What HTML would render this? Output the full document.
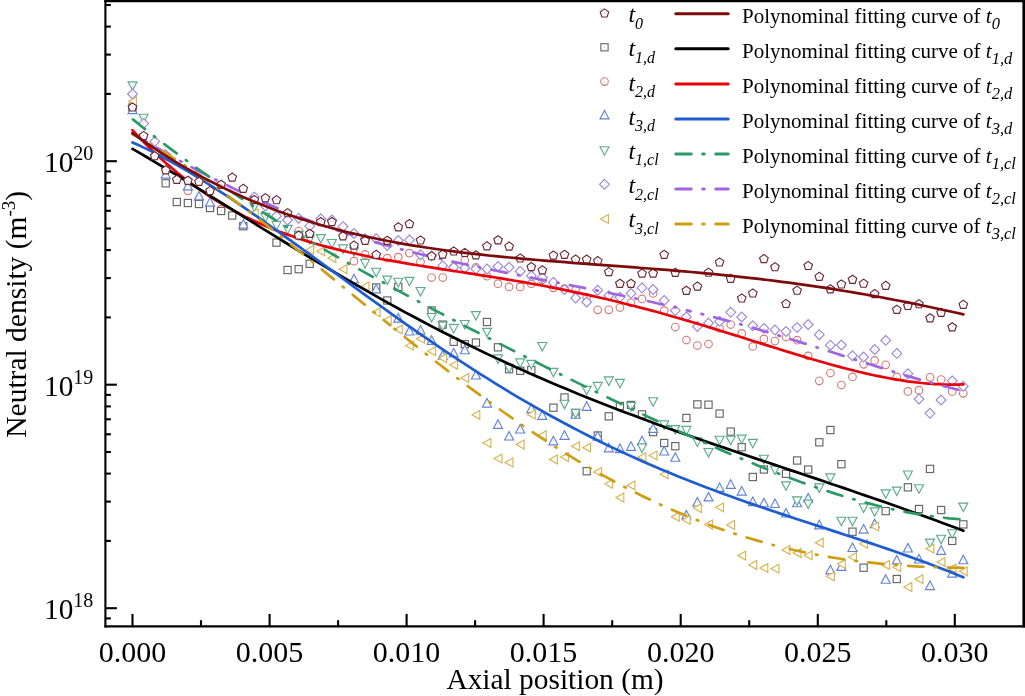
<!DOCTYPE html><html><head><meta charset="utf-8"><style>html,body{margin:0;padding:0;background:#fff;overflow:hidden}svg{display:block}text{font-family:"Liberation Serif","Times New Roman",serif;fill:#000}</style></head><body>
<svg width="1025" height="696" viewBox="0 0 1025 696">
<rect width="1025" height="696" fill="#fff"/>
<defs><clipPath id="pa"><rect x="106" y="2" width="916" height="623"/></clipPath></defs>
<g clip-path="url(#pa)" fill="#fff" stroke-width="1.15">
<g stroke="#d47a76">
<circle cx="132.5" cy="107.0" r="3.8"/><circle cx="132.5" cy="107.0" r="0.6" fill="#d47a76" fill-opacity="0.4" stroke="none"/>
<circle cx="187.9" cy="190.8" r="3.8"/><circle cx="187.9" cy="190.8" r="0.6" fill="#d47a76" fill-opacity="0.4" stroke="none"/>
<circle cx="199.0" cy="199.3" r="3.8"/><circle cx="199.0" cy="199.3" r="0.6" fill="#d47a76" fill-opacity="0.4" stroke="none"/>
<circle cx="210.0" cy="206.5" r="3.8"/><circle cx="210.0" cy="206.5" r="0.6" fill="#d47a76" fill-opacity="0.4" stroke="none"/>
<circle cx="221.1" cy="209.2" r="3.8"/><circle cx="221.1" cy="209.2" r="0.6" fill="#d47a76" fill-opacity="0.4" stroke="none"/>
<circle cx="298.7" cy="231.0" r="3.8"/><circle cx="298.7" cy="231.0" r="0.6" fill="#d47a76" fill-opacity="0.4" stroke="none"/>
<circle cx="354.0" cy="261.2" r="3.8"/><circle cx="354.0" cy="261.2" r="0.6" fill="#d47a76" fill-opacity="0.4" stroke="none"/>
<circle cx="365.1" cy="254.4" r="3.8"/><circle cx="365.1" cy="254.4" r="0.6" fill="#d47a76" fill-opacity="0.4" stroke="none"/>
<circle cx="387.3" cy="258.2" r="3.8"/><circle cx="387.3" cy="258.2" r="0.6" fill="#d47a76" fill-opacity="0.4" stroke="none"/>
<circle cx="398.3" cy="257.1" r="3.8"/><circle cx="398.3" cy="257.1" r="0.6" fill="#d47a76" fill-opacity="0.4" stroke="none"/>
<circle cx="409.4" cy="253.2" r="3.8"/><circle cx="409.4" cy="253.2" r="0.6" fill="#d47a76" fill-opacity="0.4" stroke="none"/>
<circle cx="420.5" cy="261.8" r="3.8"/><circle cx="420.5" cy="261.8" r="0.6" fill="#d47a76" fill-opacity="0.4" stroke="none"/>
<circle cx="431.6" cy="277.5" r="3.8"/><circle cx="431.6" cy="277.5" r="0.6" fill="#d47a76" fill-opacity="0.4" stroke="none"/>
<circle cx="442.7" cy="277.5" r="3.8"/><circle cx="442.7" cy="277.5" r="0.6" fill="#d47a76" fill-opacity="0.4" stroke="none"/>
<circle cx="453.7" cy="267.3" r="3.8"/><circle cx="453.7" cy="267.3" r="0.6" fill="#d47a76" fill-opacity="0.4" stroke="none"/>
<circle cx="464.8" cy="260.3" r="3.8"/><circle cx="464.8" cy="260.3" r="0.6" fill="#d47a76" fill-opacity="0.4" stroke="none"/>
<circle cx="475.9" cy="267.3" r="3.8"/><circle cx="475.9" cy="267.3" r="0.6" fill="#d47a76" fill-opacity="0.4" stroke="none"/>
<circle cx="487.0" cy="276.2" r="3.8"/><circle cx="487.0" cy="276.2" r="0.6" fill="#d47a76" fill-opacity="0.4" stroke="none"/>
<circle cx="498.0" cy="283.7" r="3.8"/><circle cx="498.0" cy="283.7" r="0.6" fill="#d47a76" fill-opacity="0.4" stroke="none"/>
<circle cx="509.1" cy="286.9" r="3.8"/><circle cx="509.1" cy="286.9" r="0.6" fill="#d47a76" fill-opacity="0.4" stroke="none"/>
<circle cx="520.2" cy="286.9" r="3.8"/><circle cx="520.2" cy="286.9" r="0.6" fill="#d47a76" fill-opacity="0.4" stroke="none"/>
<circle cx="531.3" cy="283.7" r="3.8"/><circle cx="531.3" cy="283.7" r="0.6" fill="#d47a76" fill-opacity="0.4" stroke="none"/>
<circle cx="542.3" cy="279.8" r="3.8"/><circle cx="542.3" cy="279.8" r="0.6" fill="#d47a76" fill-opacity="0.4" stroke="none"/>
<circle cx="553.4" cy="287.8" r="3.8"/><circle cx="553.4" cy="287.8" r="0.6" fill="#d47a76" fill-opacity="0.4" stroke="none"/>
<circle cx="564.5" cy="288.7" r="3.8"/><circle cx="564.5" cy="288.7" r="0.6" fill="#d47a76" fill-opacity="0.4" stroke="none"/>
<circle cx="575.6" cy="290.2" r="3.8"/><circle cx="575.6" cy="290.2" r="0.6" fill="#d47a76" fill-opacity="0.4" stroke="none"/>
<circle cx="586.7" cy="297.3" r="3.8"/><circle cx="586.7" cy="297.3" r="0.6" fill="#d47a76" fill-opacity="0.4" stroke="none"/>
<circle cx="597.7" cy="309.8" r="3.8"/><circle cx="597.7" cy="309.8" r="0.6" fill="#d47a76" fill-opacity="0.4" stroke="none"/>
<circle cx="608.8" cy="309.8" r="3.8"/><circle cx="608.8" cy="309.8" r="0.6" fill="#d47a76" fill-opacity="0.4" stroke="none"/>
<circle cx="619.9" cy="307.5" r="3.8"/><circle cx="619.9" cy="307.5" r="0.6" fill="#d47a76" fill-opacity="0.4" stroke="none"/>
<circle cx="631.0" cy="302.8" r="3.8"/><circle cx="631.0" cy="302.8" r="0.6" fill="#d47a76" fill-opacity="0.4" stroke="none"/>
<circle cx="642.0" cy="298.9" r="3.8"/><circle cx="642.0" cy="298.9" r="0.6" fill="#d47a76" fill-opacity="0.4" stroke="none"/>
<circle cx="653.1" cy="293.4" r="3.8"/><circle cx="653.1" cy="293.4" r="0.6" fill="#d47a76" fill-opacity="0.4" stroke="none"/>
<circle cx="664.2" cy="310.6" r="3.8"/><circle cx="664.2" cy="310.6" r="0.6" fill="#d47a76" fill-opacity="0.4" stroke="none"/>
<circle cx="675.3" cy="327.0" r="3.8"/><circle cx="675.3" cy="327.0" r="0.6" fill="#d47a76" fill-opacity="0.4" stroke="none"/>
<circle cx="686.4" cy="340.0" r="3.8"/><circle cx="686.4" cy="340.0" r="0.6" fill="#d47a76" fill-opacity="0.4" stroke="none"/>
<circle cx="697.4" cy="345.5" r="3.8"/><circle cx="697.4" cy="345.5" r="0.6" fill="#d47a76" fill-opacity="0.4" stroke="none"/>
<circle cx="708.5" cy="344.0" r="3.8"/><circle cx="708.5" cy="344.0" r="0.6" fill="#d47a76" fill-opacity="0.4" stroke="none"/>
<circle cx="719.6" cy="328.4" r="3.8"/><circle cx="719.6" cy="328.4" r="0.6" fill="#d47a76" fill-opacity="0.4" stroke="none"/>
<circle cx="730.7" cy="324.5" r="3.8"/><circle cx="730.7" cy="324.5" r="0.6" fill="#d47a76" fill-opacity="0.4" stroke="none"/>
<circle cx="741.7" cy="333.4" r="3.8"/><circle cx="741.7" cy="333.4" r="0.6" fill="#d47a76" fill-opacity="0.4" stroke="none"/>
<circle cx="752.8" cy="346.4" r="3.8"/><circle cx="752.8" cy="346.4" r="0.6" fill="#d47a76" fill-opacity="0.4" stroke="none"/>
<circle cx="763.9" cy="338.9" r="3.8"/><circle cx="763.9" cy="338.9" r="0.6" fill="#d47a76" fill-opacity="0.4" stroke="none"/>
<circle cx="775.0" cy="341.0" r="3.8"/><circle cx="775.0" cy="341.0" r="0.6" fill="#d47a76" fill-opacity="0.4" stroke="none"/>
<circle cx="786.0" cy="337.0" r="3.8"/><circle cx="786.0" cy="337.0" r="0.6" fill="#d47a76" fill-opacity="0.4" stroke="none"/>
<circle cx="797.1" cy="340.2" r="3.8"/><circle cx="797.1" cy="340.2" r="0.6" fill="#d47a76" fill-opacity="0.4" stroke="none"/>
<circle cx="808.2" cy="355.9" r="3.8"/><circle cx="808.2" cy="355.9" r="0.6" fill="#d47a76" fill-opacity="0.4" stroke="none"/>
<circle cx="819.3" cy="380.8" r="3.8"/><circle cx="819.3" cy="380.8" r="0.6" fill="#d47a76" fill-opacity="0.4" stroke="none"/>
<circle cx="830.4" cy="373.0" r="3.8"/><circle cx="830.4" cy="373.0" r="0.6" fill="#d47a76" fill-opacity="0.4" stroke="none"/>
<circle cx="841.4" cy="385.0" r="3.8"/><circle cx="841.4" cy="385.0" r="0.6" fill="#d47a76" fill-opacity="0.4" stroke="none"/>
<circle cx="852.5" cy="376.9" r="3.8"/><circle cx="852.5" cy="376.9" r="0.6" fill="#d47a76" fill-opacity="0.4" stroke="none"/>
<circle cx="863.6" cy="364.3" r="3.8"/><circle cx="863.6" cy="364.3" r="0.6" fill="#d47a76" fill-opacity="0.4" stroke="none"/>
<circle cx="874.7" cy="360.4" r="3.8"/><circle cx="874.7" cy="360.4" r="0.6" fill="#d47a76" fill-opacity="0.4" stroke="none"/>
<circle cx="885.7" cy="364.8" r="3.8"/><circle cx="885.7" cy="364.8" r="0.6" fill="#d47a76" fill-opacity="0.4" stroke="none"/>
<circle cx="896.8" cy="376.9" r="3.8"/><circle cx="896.8" cy="376.9" r="0.6" fill="#d47a76" fill-opacity="0.4" stroke="none"/>
<circle cx="907.9" cy="391.4" r="3.8"/><circle cx="907.9" cy="391.4" r="0.6" fill="#d47a76" fill-opacity="0.4" stroke="none"/>
<circle cx="919.0" cy="390.2" r="3.8"/><circle cx="919.0" cy="390.2" r="0.6" fill="#d47a76" fill-opacity="0.4" stroke="none"/>
<circle cx="930.0" cy="377.3" r="3.8"/><circle cx="930.0" cy="377.3" r="0.6" fill="#d47a76" fill-opacity="0.4" stroke="none"/>
<circle cx="941.1" cy="379.5" r="3.8"/><circle cx="941.1" cy="379.5" r="0.6" fill="#d47a76" fill-opacity="0.4" stroke="none"/>
<circle cx="952.2" cy="391.4" r="3.8"/><circle cx="952.2" cy="391.4" r="0.6" fill="#d47a76" fill-opacity="0.4" stroke="none"/>
<circle cx="963.3" cy="393.3" r="3.8"/><circle cx="963.3" cy="393.3" r="0.6" fill="#d47a76" fill-opacity="0.4" stroke="none"/>
</g>
<g stroke="#646464">
<rect x="128.9" y="103.9" width="7.2" height="7.2"/><circle cx="132.5" cy="107.5" r="0.6" fill="#646464" fill-opacity="0.4" stroke="none"/>
<rect x="162.1" y="179.7" width="7.2" height="7.2"/><circle cx="165.7" cy="183.3" r="0.6" fill="#646464" fill-opacity="0.4" stroke="none"/>
<rect x="173.2" y="198.4" width="7.2" height="7.2"/><circle cx="176.8" cy="202.0" r="0.6" fill="#646464" fill-opacity="0.4" stroke="none"/>
<rect x="184.3" y="199.4" width="7.2" height="7.2"/><circle cx="187.9" cy="203.0" r="0.6" fill="#646464" fill-opacity="0.4" stroke="none"/>
<rect x="195.4" y="200.4" width="7.2" height="7.2"/><circle cx="199.0" cy="204.0" r="0.6" fill="#646464" fill-opacity="0.4" stroke="none"/>
<rect x="206.4" y="204.4" width="7.2" height="7.2"/><circle cx="210.0" cy="208.0" r="0.6" fill="#646464" fill-opacity="0.4" stroke="none"/>
<rect x="217.5" y="207.4" width="7.2" height="7.2"/><circle cx="221.1" cy="211.0" r="0.6" fill="#646464" fill-opacity="0.4" stroke="none"/>
<rect x="228.6" y="211.9" width="7.2" height="7.2"/><circle cx="232.2" cy="215.5" r="0.6" fill="#646464" fill-opacity="0.4" stroke="none"/>
<rect x="239.7" y="222.6" width="7.2" height="7.2"/><circle cx="243.3" cy="226.2" r="0.6" fill="#646464" fill-opacity="0.4" stroke="none"/>
<rect x="272.9" y="239.0" width="7.2" height="7.2"/><circle cx="276.5" cy="242.6" r="0.6" fill="#646464" fill-opacity="0.4" stroke="none"/>
<rect x="284.0" y="266.4" width="7.2" height="7.2"/><circle cx="287.6" cy="270.0" r="0.6" fill="#646464" fill-opacity="0.4" stroke="none"/>
<rect x="295.1" y="265.6" width="7.2" height="7.2"/><circle cx="298.7" cy="269.2" r="0.6" fill="#646464" fill-opacity="0.4" stroke="none"/>
<rect x="306.1" y="260.2" width="7.2" height="7.2"/><circle cx="309.7" cy="263.8" r="0.6" fill="#646464" fill-opacity="0.4" stroke="none"/>
<rect x="372.6" y="283.9" width="7.2" height="7.2"/><circle cx="376.2" cy="287.5" r="0.6" fill="#646464" fill-opacity="0.4" stroke="none"/>
<rect x="383.7" y="296.9" width="7.2" height="7.2"/><circle cx="387.3" cy="300.5" r="0.6" fill="#646464" fill-opacity="0.4" stroke="none"/>
<rect x="394.7" y="283.4" width="7.2" height="7.2"/><circle cx="398.3" cy="287.0" r="0.6" fill="#646464" fill-opacity="0.4" stroke="none"/>
<rect x="428.0" y="306.9" width="7.2" height="7.2"/><circle cx="431.6" cy="310.5" r="0.6" fill="#646464" fill-opacity="0.4" stroke="none"/>
<rect x="439.1" y="321.0" width="7.2" height="7.2"/><circle cx="442.7" cy="324.6" r="0.6" fill="#646464" fill-opacity="0.4" stroke="none"/>
<rect x="450.1" y="338.2" width="7.2" height="7.2"/><circle cx="453.7" cy="341.8" r="0.6" fill="#646464" fill-opacity="0.4" stroke="none"/>
<rect x="461.2" y="340.6" width="7.2" height="7.2"/><circle cx="464.8" cy="344.2" r="0.6" fill="#646464" fill-opacity="0.4" stroke="none"/>
<rect x="472.3" y="339.0" width="7.2" height="7.2"/><circle cx="475.9" cy="342.6" r="0.6" fill="#646464" fill-opacity="0.4" stroke="none"/>
<rect x="483.4" y="318.4" width="7.2" height="7.2"/><circle cx="487.0" cy="322.0" r="0.6" fill="#646464" fill-opacity="0.4" stroke="none"/>
<rect x="494.4" y="343.7" width="7.2" height="7.2"/><circle cx="498.0" cy="347.3" r="0.6" fill="#646464" fill-opacity="0.4" stroke="none"/>
<rect x="505.5" y="365.6" width="7.2" height="7.2"/><circle cx="509.1" cy="369.2" r="0.6" fill="#646464" fill-opacity="0.4" stroke="none"/>
<rect x="516.6" y="367.2" width="7.2" height="7.2"/><circle cx="520.2" cy="370.8" r="0.6" fill="#646464" fill-opacity="0.4" stroke="none"/>
<rect x="527.7" y="366.4" width="7.2" height="7.2"/><circle cx="531.3" cy="370.0" r="0.6" fill="#646464" fill-opacity="0.4" stroke="none"/>
<rect x="549.8" y="404.1" width="7.2" height="7.2"/><circle cx="553.4" cy="407.7" r="0.6" fill="#646464" fill-opacity="0.4" stroke="none"/>
<rect x="560.9" y="393.9" width="7.2" height="7.2"/><circle cx="564.5" cy="397.5" r="0.6" fill="#646464" fill-opacity="0.4" stroke="none"/>
<rect x="572.0" y="409.4" width="7.2" height="7.2"/><circle cx="575.6" cy="413.0" r="0.6" fill="#646464" fill-opacity="0.4" stroke="none"/>
<rect x="583.1" y="467.6" width="7.2" height="7.2"/><circle cx="586.7" cy="471.2" r="0.6" fill="#646464" fill-opacity="0.4" stroke="none"/>
<rect x="594.1" y="431.9" width="7.2" height="7.2"/><circle cx="597.7" cy="435.5" r="0.6" fill="#646464" fill-opacity="0.4" stroke="none"/>
<rect x="605.2" y="412.7" width="7.2" height="7.2"/><circle cx="608.8" cy="416.3" r="0.6" fill="#646464" fill-opacity="0.4" stroke="none"/>
<rect x="616.3" y="402.4" width="7.2" height="7.2"/><circle cx="619.9" cy="406.0" r="0.6" fill="#646464" fill-opacity="0.4" stroke="none"/>
<rect x="627.4" y="401.4" width="7.2" height="7.2"/><circle cx="631.0" cy="405.0" r="0.6" fill="#646464" fill-opacity="0.4" stroke="none"/>
<rect x="638.4" y="410.8" width="7.2" height="7.2"/><circle cx="642.0" cy="414.4" r="0.6" fill="#646464" fill-opacity="0.4" stroke="none"/>
<rect x="649.5" y="428.5" width="7.2" height="7.2"/><circle cx="653.1" cy="432.1" r="0.6" fill="#646464" fill-opacity="0.4" stroke="none"/>
<rect x="660.6" y="439.4" width="7.2" height="7.2"/><circle cx="664.2" cy="443.0" r="0.6" fill="#646464" fill-opacity="0.4" stroke="none"/>
<rect x="671.7" y="442.6" width="7.2" height="7.2"/><circle cx="675.3" cy="446.2" r="0.6" fill="#646464" fill-opacity="0.4" stroke="none"/>
<rect x="682.8" y="414.4" width="7.2" height="7.2"/><circle cx="686.4" cy="418.0" r="0.6" fill="#646464" fill-opacity="0.4" stroke="none"/>
<rect x="693.8" y="400.8" width="7.2" height="7.2"/><circle cx="697.4" cy="404.4" r="0.6" fill="#646464" fill-opacity="0.4" stroke="none"/>
<rect x="704.9" y="401.1" width="7.2" height="7.2"/><circle cx="708.5" cy="404.7" r="0.6" fill="#646464" fill-opacity="0.4" stroke="none"/>
<rect x="716.0" y="410.0" width="7.2" height="7.2"/><circle cx="719.6" cy="413.6" r="0.6" fill="#646464" fill-opacity="0.4" stroke="none"/>
<rect x="727.1" y="428.0" width="7.2" height="7.2"/><circle cx="730.7" cy="431.6" r="0.6" fill="#646464" fill-opacity="0.4" stroke="none"/>
<rect x="738.1" y="443.6" width="7.2" height="7.2"/><circle cx="741.7" cy="447.2" r="0.6" fill="#646464" fill-opacity="0.4" stroke="none"/>
<rect x="749.2" y="473.4" width="7.2" height="7.2"/><circle cx="752.8" cy="477.0" r="0.6" fill="#646464" fill-opacity="0.4" stroke="none"/>
<rect x="760.3" y="465.9" width="7.2" height="7.2"/><circle cx="763.9" cy="469.5" r="0.6" fill="#646464" fill-opacity="0.4" stroke="none"/>
<rect x="782.4" y="470.2" width="7.2" height="7.2"/><circle cx="786.0" cy="473.8" r="0.6" fill="#646464" fill-opacity="0.4" stroke="none"/>
<rect x="793.5" y="456.9" width="7.2" height="7.2"/><circle cx="797.1" cy="460.5" r="0.6" fill="#646464" fill-opacity="0.4" stroke="none"/>
<rect x="804.6" y="466.0" width="7.2" height="7.2"/><circle cx="808.2" cy="469.6" r="0.6" fill="#646464" fill-opacity="0.4" stroke="none"/>
<rect x="815.7" y="438.7" width="7.2" height="7.2"/><circle cx="819.3" cy="442.3" r="0.6" fill="#646464" fill-opacity="0.4" stroke="none"/>
<rect x="826.8" y="426.4" width="7.2" height="7.2"/><circle cx="830.4" cy="430.0" r="0.6" fill="#646464" fill-opacity="0.4" stroke="none"/>
<rect x="837.8" y="460.6" width="7.2" height="7.2"/><circle cx="841.4" cy="464.2" r="0.6" fill="#646464" fill-opacity="0.4" stroke="none"/>
<rect x="848.9" y="528.1" width="7.2" height="7.2"/><circle cx="852.5" cy="531.7" r="0.6" fill="#646464" fill-opacity="0.4" stroke="none"/>
<rect x="860.0" y="564.1" width="7.2" height="7.2"/><circle cx="863.6" cy="567.7" r="0.6" fill="#646464" fill-opacity="0.4" stroke="none"/>
<rect x="882.1" y="507.5" width="7.2" height="7.2"/><circle cx="885.7" cy="511.1" r="0.6" fill="#646464" fill-opacity="0.4" stroke="none"/>
<rect x="893.2" y="575.4" width="7.2" height="7.2"/><circle cx="896.8" cy="579.0" r="0.6" fill="#646464" fill-opacity="0.4" stroke="none"/>
<rect x="904.3" y="483.7" width="7.2" height="7.2"/><circle cx="907.9" cy="487.3" r="0.6" fill="#646464" fill-opacity="0.4" stroke="none"/>
<rect x="915.4" y="505.4" width="7.2" height="7.2"/><circle cx="919.0" cy="509.0" r="0.6" fill="#646464" fill-opacity="0.4" stroke="none"/>
<rect x="926.4" y="465.3" width="7.2" height="7.2"/><circle cx="930.0" cy="468.9" r="0.6" fill="#646464" fill-opacity="0.4" stroke="none"/>
<rect x="937.5" y="506.4" width="7.2" height="7.2"/><circle cx="941.1" cy="510.0" r="0.6" fill="#646464" fill-opacity="0.4" stroke="none"/>
<rect x="948.6" y="537.3" width="7.2" height="7.2"/><circle cx="952.2" cy="540.9" r="0.6" fill="#646464" fill-opacity="0.4" stroke="none"/>
<rect x="959.7" y="520.8" width="7.2" height="7.2"/><circle cx="963.3" cy="524.4" r="0.6" fill="#646464" fill-opacity="0.4" stroke="none"/>
</g>
<g stroke="#6282d4">
<polygon points="132.5,105.1 137.0,113.6 128.0,113.6"/><circle cx="132.5" cy="109.5" r="0.6" fill="#6282d4" fill-opacity="0.4" stroke="none"/>
<polygon points="165.7,169.6 170.2,178.1 161.2,178.1"/><circle cx="165.7" cy="174.0" r="0.6" fill="#6282d4" fill-opacity="0.4" stroke="none"/>
<polygon points="187.9,181.4 192.4,189.9 183.4,189.9"/><circle cx="187.9" cy="185.8" r="0.6" fill="#6282d4" fill-opacity="0.4" stroke="none"/>
<polygon points="199.0,191.4 203.5,199.9 194.5,199.9"/><circle cx="199.0" cy="195.8" r="0.6" fill="#6282d4" fill-opacity="0.4" stroke="none"/>
<polygon points="210.0,197.6 214.5,206.1 205.5,206.1"/><circle cx="210.0" cy="202.0" r="0.6" fill="#6282d4" fill-opacity="0.4" stroke="none"/>
<polygon points="243.3,219.6 247.8,228.1 238.8,228.1"/><circle cx="243.3" cy="224.0" r="0.6" fill="#6282d4" fill-opacity="0.4" stroke="none"/>
<polygon points="354.0,274.2 358.5,282.7 349.5,282.7"/><circle cx="354.0" cy="278.6" r="0.6" fill="#6282d4" fill-opacity="0.4" stroke="none"/>
<polygon points="376.2,284.4 380.7,292.9 371.7,292.9"/><circle cx="376.2" cy="288.8" r="0.6" fill="#6282d4" fill-opacity="0.4" stroke="none"/>
<polygon points="398.3,313.6 402.8,322.1 393.8,322.1"/><circle cx="398.3" cy="318.0" r="0.6" fill="#6282d4" fill-opacity="0.4" stroke="none"/>
<polygon points="409.4,326.5 413.9,335.0 404.9,335.0"/><circle cx="409.4" cy="330.9" r="0.6" fill="#6282d4" fill-opacity="0.4" stroke="none"/>
<polygon points="420.5,325.6 425.0,334.1 416.0,334.1"/><circle cx="420.5" cy="330.0" r="0.6" fill="#6282d4" fill-opacity="0.4" stroke="none"/>
<polygon points="431.6,335.8 436.1,344.3 427.1,344.3"/><circle cx="431.6" cy="340.2" r="0.6" fill="#6282d4" fill-opacity="0.4" stroke="none"/>
<polygon points="442.7,350.7 447.2,359.2 438.2,359.2"/><circle cx="442.7" cy="355.1" r="0.6" fill="#6282d4" fill-opacity="0.4" stroke="none"/>
<polygon points="453.7,348.4 458.2,356.9 449.2,356.9"/><circle cx="453.7" cy="352.8" r="0.6" fill="#6282d4" fill-opacity="0.4" stroke="none"/>
<polygon points="464.8,345.2 469.3,353.7 460.3,353.7"/><circle cx="464.8" cy="349.6" r="0.6" fill="#6282d4" fill-opacity="0.4" stroke="none"/>
<polygon points="475.9,370.5 480.4,379.0 471.4,379.0"/><circle cx="475.9" cy="374.9" r="0.6" fill="#6282d4" fill-opacity="0.4" stroke="none"/>
<polygon points="487.0,398.6 491.5,407.1 482.5,407.1"/><circle cx="487.0" cy="403.0" r="0.6" fill="#6282d4" fill-opacity="0.4" stroke="none"/>
<polygon points="498.0,419.8 502.5,428.3 493.5,428.3"/><circle cx="498.0" cy="424.2" r="0.6" fill="#6282d4" fill-opacity="0.4" stroke="none"/>
<polygon points="509.1,431.5 513.6,440.0 504.6,440.0"/><circle cx="509.1" cy="435.9" r="0.6" fill="#6282d4" fill-opacity="0.4" stroke="none"/>
<polygon points="520.2,424.5 524.7,433.0 515.7,433.0"/><circle cx="520.2" cy="428.9" r="0.6" fill="#6282d4" fill-opacity="0.4" stroke="none"/>
<polygon points="531.3,404.1 535.8,412.6 526.8,412.6"/><circle cx="531.3" cy="408.5" r="0.6" fill="#6282d4" fill-opacity="0.4" stroke="none"/>
<polygon points="542.3,410.8 546.8,419.3 537.8,419.3"/><circle cx="542.3" cy="415.2" r="0.6" fill="#6282d4" fill-opacity="0.4" stroke="none"/>
<polygon points="553.4,436.3 557.9,444.8 548.9,444.8"/><circle cx="553.4" cy="440.7" r="0.6" fill="#6282d4" fill-opacity="0.4" stroke="none"/>
<polygon points="564.5,430.8 569.0,439.3 560.0,439.3"/><circle cx="564.5" cy="435.2" r="0.6" fill="#6282d4" fill-opacity="0.4" stroke="none"/>
<polygon points="575.6,409.7 580.1,418.2 571.1,418.2"/><circle cx="575.6" cy="414.1" r="0.6" fill="#6282d4" fill-opacity="0.4" stroke="none"/>
<polygon points="586.7,401.8 591.2,410.3 582.2,410.3"/><circle cx="586.7" cy="406.2" r="0.6" fill="#6282d4" fill-opacity="0.4" stroke="none"/>
<polygon points="597.7,431.6 602.2,440.1 593.2,440.1"/><circle cx="597.7" cy="436.0" r="0.6" fill="#6282d4" fill-opacity="0.4" stroke="none"/>
<polygon points="608.8,443.3 613.3,451.8 604.3,451.8"/><circle cx="608.8" cy="447.7" r="0.6" fill="#6282d4" fill-opacity="0.4" stroke="none"/>
<polygon points="619.9,444.1 624.4,452.6 615.4,452.6"/><circle cx="619.9" cy="448.5" r="0.6" fill="#6282d4" fill-opacity="0.4" stroke="none"/>
<polygon points="631.0,441.8 635.5,450.3 626.5,450.3"/><circle cx="631.0" cy="446.2" r="0.6" fill="#6282d4" fill-opacity="0.4" stroke="none"/>
<polygon points="642.0,436.3 646.5,444.8 637.5,444.8"/><circle cx="642.0" cy="440.7" r="0.6" fill="#6282d4" fill-opacity="0.4" stroke="none"/>
<polygon points="653.1,423.8 657.6,432.3 648.6,432.3"/><circle cx="653.1" cy="428.2" r="0.6" fill="#6282d4" fill-opacity="0.4" stroke="none"/>
<polygon points="664.2,446.5 668.7,455.0 659.7,455.0"/><circle cx="664.2" cy="450.9" r="0.6" fill="#6282d4" fill-opacity="0.4" stroke="none"/>
<polygon points="675.3,452.7 679.8,461.2 670.8,461.2"/><circle cx="675.3" cy="457.1" r="0.6" fill="#6282d4" fill-opacity="0.4" stroke="none"/>
<polygon points="686.4,510.4 690.9,518.9 681.9,518.9"/><circle cx="686.4" cy="514.8" r="0.6" fill="#6282d4" fill-opacity="0.4" stroke="none"/>
<polygon points="697.4,497.5 701.9,506.0 692.9,506.0"/><circle cx="697.4" cy="501.9" r="0.6" fill="#6282d4" fill-opacity="0.4" stroke="none"/>
<polygon points="708.5,492.4 713.0,500.9 704.0,500.9"/><circle cx="708.5" cy="496.8" r="0.6" fill="#6282d4" fill-opacity="0.4" stroke="none"/>
<polygon points="719.6,482.9 724.1,491.4 715.1,491.4"/><circle cx="719.6" cy="487.3" r="0.6" fill="#6282d4" fill-opacity="0.4" stroke="none"/>
<polygon points="730.7,479.8 735.2,488.3 726.2,488.3"/><circle cx="730.7" cy="484.2" r="0.6" fill="#6282d4" fill-opacity="0.4" stroke="none"/>
<polygon points="741.7,486.6 746.2,495.1 737.2,495.1"/><circle cx="741.7" cy="491.0" r="0.6" fill="#6282d4" fill-opacity="0.4" stroke="none"/>
<polygon points="752.8,497.1 757.3,505.6 748.3,505.6"/><circle cx="752.8" cy="501.5" r="0.6" fill="#6282d4" fill-opacity="0.4" stroke="none"/>
<polygon points="763.9,498.2 768.4,506.7 759.4,506.7"/><circle cx="763.9" cy="502.6" r="0.6" fill="#6282d4" fill-opacity="0.4" stroke="none"/>
<polygon points="775.0,499.0 779.5,507.5 770.5,507.5"/><circle cx="775.0" cy="503.4" r="0.6" fill="#6282d4" fill-opacity="0.4" stroke="none"/>
<polygon points="786.0,508.5 790.5,517.0 781.5,517.0"/><circle cx="786.0" cy="512.9" r="0.6" fill="#6282d4" fill-opacity="0.4" stroke="none"/>
<polygon points="797.1,498.2 801.6,506.7 792.6,506.7"/><circle cx="797.1" cy="502.6" r="0.6" fill="#6282d4" fill-opacity="0.4" stroke="none"/>
<polygon points="808.2,493.5 812.7,502.0 803.7,502.0"/><circle cx="808.2" cy="497.9" r="0.6" fill="#6282d4" fill-opacity="0.4" stroke="none"/>
<polygon points="819.3,520.3 823.8,528.8 814.8,528.8"/><circle cx="819.3" cy="524.7" r="0.6" fill="#6282d4" fill-opacity="0.4" stroke="none"/>
<polygon points="830.4,565.3 834.9,573.8 825.9,573.8"/><circle cx="830.4" cy="569.7" r="0.6" fill="#6282d4" fill-opacity="0.4" stroke="none"/>
<polygon points="841.4,561.9 845.9,570.4 836.9,570.4"/><circle cx="841.4" cy="566.3" r="0.6" fill="#6282d4" fill-opacity="0.4" stroke="none"/>
<polygon points="852.5,543.0 857.0,551.5 848.0,551.5"/><circle cx="852.5" cy="547.4" r="0.6" fill="#6282d4" fill-opacity="0.4" stroke="none"/>
<polygon points="863.6,524.6 868.1,533.1 859.1,533.1"/><circle cx="863.6" cy="529.0" r="0.6" fill="#6282d4" fill-opacity="0.4" stroke="none"/>
<polygon points="874.7,519.2 879.2,527.7 870.2,527.7"/><circle cx="874.7" cy="523.6" r="0.6" fill="#6282d4" fill-opacity="0.4" stroke="none"/>
<polygon points="885.7,574.7 890.2,583.2 881.2,583.2"/><circle cx="885.7" cy="579.1" r="0.6" fill="#6282d4" fill-opacity="0.4" stroke="none"/>
<polygon points="896.8,555.4 901.3,563.9 892.3,563.9"/><circle cx="896.8" cy="559.8" r="0.6" fill="#6282d4" fill-opacity="0.4" stroke="none"/>
<polygon points="907.9,543.5 912.4,552.0 903.4,552.0"/><circle cx="907.9" cy="547.9" r="0.6" fill="#6282d4" fill-opacity="0.4" stroke="none"/>
<polygon points="919.0,554.5 923.5,563.0 914.5,563.0"/><circle cx="919.0" cy="558.9" r="0.6" fill="#6282d4" fill-opacity="0.4" stroke="none"/>
<polygon points="930.0,581.1 934.5,589.6 925.5,589.6"/><circle cx="930.0" cy="585.5" r="0.6" fill="#6282d4" fill-opacity="0.4" stroke="none"/>
<polygon points="941.1,545.8 945.6,554.3 936.6,554.3"/><circle cx="941.1" cy="550.2" r="0.6" fill="#6282d4" fill-opacity="0.4" stroke="none"/>
<polygon points="952.2,568.6 956.7,577.1 947.7,577.1"/><circle cx="952.2" cy="573.0" r="0.6" fill="#6282d4" fill-opacity="0.4" stroke="none"/>
<polygon points="963.3,555.2 967.8,563.7 958.8,563.7"/><circle cx="963.3" cy="559.6" r="0.6" fill="#6282d4" fill-opacity="0.4" stroke="none"/>
</g>
<g stroke="#5cab8c">
<polygon points="132.5,90.3 137.0,81.8 128.0,81.8"/><circle cx="132.5" cy="85.9" r="0.6" fill="#5cab8c" fill-opacity="0.4" stroke="none"/>
<polygon points="143.6,122.7 148.1,114.2 139.1,114.2"/><circle cx="143.6" cy="118.3" r="0.6" fill="#5cab8c" fill-opacity="0.4" stroke="none"/>
<polygon points="254.3,211.4 258.8,202.9 249.8,202.9"/><circle cx="254.3" cy="207.0" r="0.6" fill="#5cab8c" fill-opacity="0.4" stroke="none"/>
<polygon points="265.4,221.9 269.9,213.4 260.9,213.4"/><circle cx="265.4" cy="217.5" r="0.6" fill="#5cab8c" fill-opacity="0.4" stroke="none"/>
<polygon points="276.5,229.9 281.0,221.4 272.0,221.4"/><circle cx="276.5" cy="225.5" r="0.6" fill="#5cab8c" fill-opacity="0.4" stroke="none"/>
<polygon points="287.6,233.9 292.1,225.4 283.1,225.4"/><circle cx="287.6" cy="229.5" r="0.6" fill="#5cab8c" fill-opacity="0.4" stroke="none"/>
<polygon points="298.7,239.9 303.2,231.4 294.2,231.4"/><circle cx="298.7" cy="235.5" r="0.6" fill="#5cab8c" fill-opacity="0.4" stroke="none"/>
<polygon points="309.7,243.9 314.2,235.4 305.2,235.4"/><circle cx="309.7" cy="239.5" r="0.6" fill="#5cab8c" fill-opacity="0.4" stroke="none"/>
<polygon points="320.8,243.1 325.3,234.6 316.3,234.6"/><circle cx="320.8" cy="238.7" r="0.6" fill="#5cab8c" fill-opacity="0.4" stroke="none"/>
<polygon points="331.9,248.0 336.4,239.5 327.4,239.5"/><circle cx="331.9" cy="243.6" r="0.6" fill="#5cab8c" fill-opacity="0.4" stroke="none"/>
<polygon points="343.0,253.4 347.5,244.9 338.5,244.9"/><circle cx="343.0" cy="249.0" r="0.6" fill="#5cab8c" fill-opacity="0.4" stroke="none"/>
<polygon points="354.0,255.9 358.5,247.4 349.5,247.4"/><circle cx="354.0" cy="251.5" r="0.6" fill="#5cab8c" fill-opacity="0.4" stroke="none"/>
<polygon points="365.1,267.9 369.6,259.4 360.6,259.4"/><circle cx="365.1" cy="263.5" r="0.6" fill="#5cab8c" fill-opacity="0.4" stroke="none"/>
<polygon points="376.2,276.7 380.7,268.2 371.7,268.2"/><circle cx="376.2" cy="272.3" r="0.6" fill="#5cab8c" fill-opacity="0.4" stroke="none"/>
<polygon points="387.3,284.6 391.8,276.1 382.8,276.1"/><circle cx="387.3" cy="280.2" r="0.6" fill="#5cab8c" fill-opacity="0.4" stroke="none"/>
<polygon points="398.3,286.7 402.8,278.2 393.8,278.2"/><circle cx="398.3" cy="282.3" r="0.6" fill="#5cab8c" fill-opacity="0.4" stroke="none"/>
<polygon points="409.4,285.8 413.9,277.3 404.9,277.3"/><circle cx="409.4" cy="281.4" r="0.6" fill="#5cab8c" fill-opacity="0.4" stroke="none"/>
<polygon points="420.5,296.0 425.0,287.5 416.0,287.5"/><circle cx="420.5" cy="291.6" r="0.6" fill="#5cab8c" fill-opacity="0.4" stroke="none"/>
<polygon points="431.6,322.0 436.1,313.5 427.1,313.5"/><circle cx="431.6" cy="317.6" r="0.6" fill="#5cab8c" fill-opacity="0.4" stroke="none"/>
<polygon points="442.7,330.6 447.2,322.1 438.2,322.1"/><circle cx="442.7" cy="326.2" r="0.6" fill="#5cab8c" fill-opacity="0.4" stroke="none"/>
<polygon points="453.7,332.9 458.2,324.4 449.2,324.4"/><circle cx="453.7" cy="328.5" r="0.6" fill="#5cab8c" fill-opacity="0.4" stroke="none"/>
<polygon points="464.8,329.0 469.3,320.5 460.3,320.5"/><circle cx="464.8" cy="324.6" r="0.6" fill="#5cab8c" fill-opacity="0.4" stroke="none"/>
<polygon points="475.9,320.1 480.4,311.6 471.4,311.6"/><circle cx="475.9" cy="315.7" r="0.6" fill="#5cab8c" fill-opacity="0.4" stroke="none"/>
<polygon points="487.0,336.8 491.5,328.3 482.5,328.3"/><circle cx="487.0" cy="332.4" r="0.6" fill="#5cab8c" fill-opacity="0.4" stroke="none"/>
<polygon points="498.0,363.4 502.5,354.9 493.5,354.9"/><circle cx="498.0" cy="359.0" r="0.6" fill="#5cab8c" fill-opacity="0.4" stroke="none"/>
<polygon points="509.1,372.8 513.6,364.3 504.6,364.3"/><circle cx="509.1" cy="368.4" r="0.6" fill="#5cab8c" fill-opacity="0.4" stroke="none"/>
<polygon points="520.2,367.4 524.7,358.9 515.7,358.9"/><circle cx="520.2" cy="363.0" r="0.6" fill="#5cab8c" fill-opacity="0.4" stroke="none"/>
<polygon points="531.3,368.9 535.8,360.4 526.8,360.4"/><circle cx="531.3" cy="364.5" r="0.6" fill="#5cab8c" fill-opacity="0.4" stroke="none"/>
<polygon points="542.3,351.0 546.8,342.5 537.8,342.5"/><circle cx="542.3" cy="346.6" r="0.6" fill="#5cab8c" fill-opacity="0.4" stroke="none"/>
<polygon points="553.4,376.8 557.9,368.3 548.9,368.3"/><circle cx="553.4" cy="372.4" r="0.6" fill="#5cab8c" fill-opacity="0.4" stroke="none"/>
<polygon points="564.5,408.7 569.0,400.2 560.0,400.2"/><circle cx="564.5" cy="404.3" r="0.6" fill="#5cab8c" fill-opacity="0.4" stroke="none"/>
<polygon points="575.6,417.9 580.1,409.4 571.1,409.4"/><circle cx="575.6" cy="413.5" r="0.6" fill="#5cab8c" fill-opacity="0.4" stroke="none"/>
<polygon points="586.7,394.8 591.2,386.3 582.2,386.3"/><circle cx="586.7" cy="390.4" r="0.6" fill="#5cab8c" fill-opacity="0.4" stroke="none"/>
<polygon points="597.7,390.9 602.2,382.4 593.2,382.4"/><circle cx="597.7" cy="386.5" r="0.6" fill="#5cab8c" fill-opacity="0.4" stroke="none"/>
<polygon points="608.8,385.4 613.3,376.9 604.3,376.9"/><circle cx="608.8" cy="381.0" r="0.6" fill="#5cab8c" fill-opacity="0.4" stroke="none"/>
<polygon points="619.9,387.8 624.4,379.3 615.4,379.3"/><circle cx="619.9" cy="383.4" r="0.6" fill="#5cab8c" fill-opacity="0.4" stroke="none"/>
<polygon points="631.0,411.0 635.5,402.5 626.5,402.5"/><circle cx="631.0" cy="406.6" r="0.6" fill="#5cab8c" fill-opacity="0.4" stroke="none"/>
<polygon points="642.0,452.4 646.5,443.9 637.5,443.9"/><circle cx="642.0" cy="448.0" r="0.6" fill="#5cab8c" fill-opacity="0.4" stroke="none"/>
<polygon points="653.1,406.2 657.6,397.7 648.6,397.7"/><circle cx="653.1" cy="401.8" r="0.6" fill="#5cab8c" fill-opacity="0.4" stroke="none"/>
<polygon points="664.2,429.4 668.7,420.9 659.7,420.9"/><circle cx="664.2" cy="425.0" r="0.6" fill="#5cab8c" fill-opacity="0.4" stroke="none"/>
<polygon points="675.3,434.1 679.8,425.6 670.8,425.6"/><circle cx="675.3" cy="429.7" r="0.6" fill="#5cab8c" fill-opacity="0.4" stroke="none"/>
<polygon points="686.4,434.9 690.9,426.4 681.9,426.4"/><circle cx="686.4" cy="430.5" r="0.6" fill="#5cab8c" fill-opacity="0.4" stroke="none"/>
<polygon points="697.4,446.4 701.9,437.9 692.9,437.9"/><circle cx="697.4" cy="442.0" r="0.6" fill="#5cab8c" fill-opacity="0.4" stroke="none"/>
<polygon points="708.5,457.0 713.0,448.5 704.0,448.5"/><circle cx="708.5" cy="452.6" r="0.6" fill="#5cab8c" fill-opacity="0.4" stroke="none"/>
<polygon points="719.6,444.7 724.1,436.2 715.1,436.2"/><circle cx="719.6" cy="440.3" r="0.6" fill="#5cab8c" fill-opacity="0.4" stroke="none"/>
<polygon points="730.7,444.7 735.2,436.2 726.2,436.2"/><circle cx="730.7" cy="440.3" r="0.6" fill="#5cab8c" fill-opacity="0.4" stroke="none"/>
<polygon points="741.7,443.6 746.2,435.1 737.2,435.1"/><circle cx="741.7" cy="439.2" r="0.6" fill="#5cab8c" fill-opacity="0.4" stroke="none"/>
<polygon points="752.8,447.8 757.3,439.3 748.3,439.3"/><circle cx="752.8" cy="443.4" r="0.6" fill="#5cab8c" fill-opacity="0.4" stroke="none"/>
<polygon points="763.9,463.7 768.4,455.2 759.4,455.2"/><circle cx="763.9" cy="459.3" r="0.6" fill="#5cab8c" fill-opacity="0.4" stroke="none"/>
<polygon points="775.0,474.6 779.5,466.1 770.5,466.1"/><circle cx="775.0" cy="470.2" r="0.6" fill="#5cab8c" fill-opacity="0.4" stroke="none"/>
<polygon points="786.0,490.3 790.5,481.8 781.5,481.8"/><circle cx="786.0" cy="485.9" r="0.6" fill="#5cab8c" fill-opacity="0.4" stroke="none"/>
<polygon points="797.1,505.4 801.6,496.9 792.6,496.9"/><circle cx="797.1" cy="501.0" r="0.6" fill="#5cab8c" fill-opacity="0.4" stroke="none"/>
<polygon points="808.2,508.6 812.7,500.1 803.7,500.1"/><circle cx="808.2" cy="504.2" r="0.6" fill="#5cab8c" fill-opacity="0.4" stroke="none"/>
<polygon points="819.3,492.4 823.8,483.9 814.8,483.9"/><circle cx="819.3" cy="488.0" r="0.6" fill="#5cab8c" fill-opacity="0.4" stroke="none"/>
<polygon points="830.4,482.4 834.9,473.9 825.9,473.9"/><circle cx="830.4" cy="478.0" r="0.6" fill="#5cab8c" fill-opacity="0.4" stroke="none"/>
<polygon points="841.4,525.7 845.9,517.2 836.9,517.2"/><circle cx="841.4" cy="521.3" r="0.6" fill="#5cab8c" fill-opacity="0.4" stroke="none"/>
<polygon points="852.5,525.7 857.0,517.2 848.0,517.2"/><circle cx="852.5" cy="521.3" r="0.6" fill="#5cab8c" fill-opacity="0.4" stroke="none"/>
<polygon points="863.6,512.4 868.1,503.9 859.1,503.9"/><circle cx="863.6" cy="508.0" r="0.6" fill="#5cab8c" fill-opacity="0.4" stroke="none"/>
<polygon points="874.7,516.3 879.2,507.8 870.2,507.8"/><circle cx="874.7" cy="511.9" r="0.6" fill="#5cab8c" fill-opacity="0.4" stroke="none"/>
<polygon points="885.7,498.3 890.2,489.8 881.2,489.8"/><circle cx="885.7" cy="493.9" r="0.6" fill="#5cab8c" fill-opacity="0.4" stroke="none"/>
<polygon points="896.8,495.6 901.3,487.1 892.3,487.1"/><circle cx="896.8" cy="491.2" r="0.6" fill="#5cab8c" fill-opacity="0.4" stroke="none"/>
<polygon points="907.9,479.5 912.4,471.0 903.4,471.0"/><circle cx="907.9" cy="475.1" r="0.6" fill="#5cab8c" fill-opacity="0.4" stroke="none"/>
<polygon points="919.0,493.2 923.5,484.7 914.5,484.7"/><circle cx="919.0" cy="488.8" r="0.6" fill="#5cab8c" fill-opacity="0.4" stroke="none"/>
<polygon points="930.0,547.6 934.5,539.1 925.5,539.1"/><circle cx="930.0" cy="543.2" r="0.6" fill="#5cab8c" fill-opacity="0.4" stroke="none"/>
<polygon points="941.1,543.7 945.6,535.2 936.6,535.2"/><circle cx="941.1" cy="539.3" r="0.6" fill="#5cab8c" fill-opacity="0.4" stroke="none"/>
<polygon points="952.2,538.2 956.7,529.7 947.7,529.7"/><circle cx="952.2" cy="533.8" r="0.6" fill="#5cab8c" fill-opacity="0.4" stroke="none"/>
<polygon points="963.3,511.6 967.8,503.1 958.8,503.1"/><circle cx="963.3" cy="507.2" r="0.6" fill="#5cab8c" fill-opacity="0.4" stroke="none"/>
</g>
<g stroke="#9a88d6">
<polygon points="132.5,89.1 137.4,94.0 132.5,98.9 127.6,94.0"/><circle cx="132.5" cy="94.0" r="0.6" fill="#9a88d6" fill-opacity="0.4" stroke="none"/>
<polygon points="143.6,118.7 148.5,123.6 143.6,128.5 138.7,123.6"/><circle cx="143.6" cy="123.6" r="0.6" fill="#9a88d6" fill-opacity="0.4" stroke="none"/>
<polygon points="154.7,136.6 159.6,141.5 154.7,146.4 149.8,141.5"/><circle cx="154.7" cy="141.5" r="0.6" fill="#9a88d6" fill-opacity="0.4" stroke="none"/>
<polygon points="165.7,149.9 170.6,154.8 165.7,159.7 160.8,154.8"/><circle cx="165.7" cy="154.8" r="0.6" fill="#9a88d6" fill-opacity="0.4" stroke="none"/>
<polygon points="254.3,192.1 259.2,197.0 254.3,201.9 249.4,197.0"/><circle cx="254.3" cy="197.0" r="0.6" fill="#9a88d6" fill-opacity="0.4" stroke="none"/>
<polygon points="265.4,201.1 270.3,206.0 265.4,210.9 260.5,206.0"/><circle cx="265.4" cy="206.0" r="0.6" fill="#9a88d6" fill-opacity="0.4" stroke="none"/>
<polygon points="276.5,211.1 281.4,216.0 276.5,220.9 271.6,216.0"/><circle cx="276.5" cy="216.0" r="0.6" fill="#9a88d6" fill-opacity="0.4" stroke="none"/>
<polygon points="287.6,215.1 292.5,220.0 287.6,224.9 282.7,220.0"/><circle cx="287.6" cy="220.0" r="0.6" fill="#9a88d6" fill-opacity="0.4" stroke="none"/>
<polygon points="298.7,213.3 303.6,218.2 298.7,223.1 293.8,218.2"/><circle cx="298.7" cy="218.2" r="0.6" fill="#9a88d6" fill-opacity="0.4" stroke="none"/>
<polygon points="309.7,221.3 314.6,226.2 309.7,231.1 304.8,226.2"/><circle cx="309.7" cy="226.2" r="0.6" fill="#9a88d6" fill-opacity="0.4" stroke="none"/>
<polygon points="320.8,213.9 325.7,218.8 320.8,223.7 315.9,218.8"/><circle cx="320.8" cy="218.8" r="0.6" fill="#9a88d6" fill-opacity="0.4" stroke="none"/>
<polygon points="331.9,215.1 336.8,220.0 331.9,224.9 327.0,220.0"/><circle cx="331.9" cy="220.0" r="0.6" fill="#9a88d6" fill-opacity="0.4" stroke="none"/>
<polygon points="343.0,221.7 347.9,226.6 343.0,231.5 338.1,226.6"/><circle cx="343.0" cy="226.6" r="0.6" fill="#9a88d6" fill-opacity="0.4" stroke="none"/>
<polygon points="354.0,228.6 358.9,233.5 354.0,238.4 349.1,233.5"/><circle cx="354.0" cy="233.5" r="0.6" fill="#9a88d6" fill-opacity="0.4" stroke="none"/>
<polygon points="365.1,233.8 370.0,238.7 365.1,243.6 360.2,238.7"/><circle cx="365.1" cy="238.7" r="0.6" fill="#9a88d6" fill-opacity="0.4" stroke="none"/>
<polygon points="376.2,233.8 381.1,238.7 376.2,243.6 371.3,238.7"/><circle cx="376.2" cy="238.7" r="0.6" fill="#9a88d6" fill-opacity="0.4" stroke="none"/>
<polygon points="387.3,240.7 392.2,245.6 387.3,250.5 382.4,245.6"/><circle cx="387.3" cy="245.6" r="0.6" fill="#9a88d6" fill-opacity="0.4" stroke="none"/>
<polygon points="398.3,235.6 403.2,240.5 398.3,245.4 393.4,240.5"/><circle cx="398.3" cy="240.5" r="0.6" fill="#9a88d6" fill-opacity="0.4" stroke="none"/>
<polygon points="409.4,235.0 414.3,239.9 409.4,244.8 404.5,239.9"/><circle cx="409.4" cy="239.9" r="0.6" fill="#9a88d6" fill-opacity="0.4" stroke="none"/>
<polygon points="420.5,249.8 425.4,254.7 420.5,259.6 415.6,254.7"/><circle cx="420.5" cy="254.7" r="0.6" fill="#9a88d6" fill-opacity="0.4" stroke="none"/>
<polygon points="431.6,251.0 436.5,255.9 431.6,260.8 426.7,255.9"/><circle cx="431.6" cy="255.9" r="0.6" fill="#9a88d6" fill-opacity="0.4" stroke="none"/>
<polygon points="442.7,260.8 447.6,265.7 442.7,270.6 437.8,265.7"/><circle cx="442.7" cy="265.7" r="0.6" fill="#9a88d6" fill-opacity="0.4" stroke="none"/>
<polygon points="453.7,262.4 458.6,267.3 453.7,272.2 448.8,267.3"/><circle cx="453.7" cy="267.3" r="0.6" fill="#9a88d6" fill-opacity="0.4" stroke="none"/>
<polygon points="464.8,263.1 469.7,268.0 464.8,272.9 459.9,268.0"/><circle cx="464.8" cy="268.0" r="0.6" fill="#9a88d6" fill-opacity="0.4" stroke="none"/>
<polygon points="475.9,264.0 480.8,268.9 475.9,273.8 471.0,268.9"/><circle cx="475.9" cy="268.9" r="0.6" fill="#9a88d6" fill-opacity="0.4" stroke="none"/>
<polygon points="487.0,264.0 491.9,268.9 487.0,273.8 482.1,268.9"/><circle cx="487.0" cy="268.9" r="0.6" fill="#9a88d6" fill-opacity="0.4" stroke="none"/>
<polygon points="498.0,261.6 502.9,266.5 498.0,271.4 493.1,266.5"/><circle cx="498.0" cy="266.5" r="0.6" fill="#9a88d6" fill-opacity="0.4" stroke="none"/>
<polygon points="509.1,262.4 514.0,267.3 509.1,272.2 504.2,267.3"/><circle cx="509.1" cy="267.3" r="0.6" fill="#9a88d6" fill-opacity="0.4" stroke="none"/>
<polygon points="520.2,266.3 525.1,271.2 520.2,276.1 515.3,271.2"/><circle cx="520.2" cy="271.2" r="0.6" fill="#9a88d6" fill-opacity="0.4" stroke="none"/>
<polygon points="531.3,271.0 536.2,275.9 531.3,280.8 526.4,275.9"/><circle cx="531.3" cy="275.9" r="0.6" fill="#9a88d6" fill-opacity="0.4" stroke="none"/>
<polygon points="542.3,272.7 547.2,277.6 542.3,282.5 537.4,277.6"/><circle cx="542.3" cy="277.6" r="0.6" fill="#9a88d6" fill-opacity="0.4" stroke="none"/>
<polygon points="553.4,277.5 558.3,282.4 553.4,287.3 548.5,282.4"/><circle cx="553.4" cy="282.4" r="0.6" fill="#9a88d6" fill-opacity="0.4" stroke="none"/>
<polygon points="564.5,284.6 569.4,289.5 564.5,294.4 559.6,289.5"/><circle cx="564.5" cy="289.5" r="0.6" fill="#9a88d6" fill-opacity="0.4" stroke="none"/>
<polygon points="575.6,293.1 580.5,298.0 575.6,302.9 570.7,298.0"/><circle cx="575.6" cy="298.0" r="0.6" fill="#9a88d6" fill-opacity="0.4" stroke="none"/>
<polygon points="586.7,297.1 591.6,302.0 586.7,306.9 581.8,302.0"/><circle cx="586.7" cy="302.0" r="0.6" fill="#9a88d6" fill-opacity="0.4" stroke="none"/>
<polygon points="597.7,285.3 602.6,290.2 597.7,295.1 592.8,290.2"/><circle cx="597.7" cy="290.2" r="0.6" fill="#9a88d6" fill-opacity="0.4" stroke="none"/>
<polygon points="608.8,290.8 613.7,295.7 608.8,300.6 603.9,295.7"/><circle cx="608.8" cy="295.7" r="0.6" fill="#9a88d6" fill-opacity="0.4" stroke="none"/>
<polygon points="619.9,292.4 624.8,297.3 619.9,302.2 615.0,297.3"/><circle cx="619.9" cy="297.3" r="0.6" fill="#9a88d6" fill-opacity="0.4" stroke="none"/>
<polygon points="631.0,288.5 635.9,293.4 631.0,298.3 626.1,293.4"/><circle cx="631.0" cy="293.4" r="0.6" fill="#9a88d6" fill-opacity="0.4" stroke="none"/>
<polygon points="642.0,283.0 646.9,287.9 642.0,292.8 637.1,287.9"/><circle cx="642.0" cy="287.9" r="0.6" fill="#9a88d6" fill-opacity="0.4" stroke="none"/>
<polygon points="653.1,284.6 658.0,289.5 653.1,294.4 648.2,289.5"/><circle cx="653.1" cy="289.5" r="0.6" fill="#9a88d6" fill-opacity="0.4" stroke="none"/>
<polygon points="664.2,295.5 669.1,300.4 664.2,305.3 659.3,300.4"/><circle cx="664.2" cy="300.4" r="0.6" fill="#9a88d6" fill-opacity="0.4" stroke="none"/>
<polygon points="675.3,305.7 680.2,310.6 675.3,315.5 670.4,310.6"/><circle cx="675.3" cy="310.6" r="0.6" fill="#9a88d6" fill-opacity="0.4" stroke="none"/>
<polygon points="686.4,312.0 691.2,316.9 686.4,321.8 681.5,316.9"/><circle cx="686.4" cy="316.9" r="0.6" fill="#9a88d6" fill-opacity="0.4" stroke="none"/>
<polygon points="697.4,321.6 702.3,326.5 697.4,331.4 692.5,326.5"/><circle cx="697.4" cy="326.5" r="0.6" fill="#9a88d6" fill-opacity="0.4" stroke="none"/>
<polygon points="708.5,318.1 713.4,323.0 708.5,327.9 703.6,323.0"/><circle cx="708.5" cy="323.0" r="0.6" fill="#9a88d6" fill-opacity="0.4" stroke="none"/>
<polygon points="719.6,316.5 724.5,321.4 719.6,326.3 714.7,321.4"/><circle cx="719.6" cy="321.4" r="0.6" fill="#9a88d6" fill-opacity="0.4" stroke="none"/>
<polygon points="730.7,307.4 735.6,312.3 730.7,317.2 725.8,312.3"/><circle cx="730.7" cy="312.3" r="0.6" fill="#9a88d6" fill-opacity="0.4" stroke="none"/>
<polygon points="741.7,312.1 746.6,317.0 741.7,321.9 736.8,317.0"/><circle cx="741.7" cy="317.0" r="0.6" fill="#9a88d6" fill-opacity="0.4" stroke="none"/>
<polygon points="752.8,320.9 757.7,325.8 752.8,330.7 747.9,325.8"/><circle cx="752.8" cy="325.8" r="0.6" fill="#9a88d6" fill-opacity="0.4" stroke="none"/>
<polygon points="763.9,323.5 768.8,328.4 763.9,333.3 759.0,328.4"/><circle cx="763.9" cy="328.4" r="0.6" fill="#9a88d6" fill-opacity="0.4" stroke="none"/>
<polygon points="775.0,325.1 779.9,330.0 775.0,334.9 770.1,330.0"/><circle cx="775.0" cy="330.0" r="0.6" fill="#9a88d6" fill-opacity="0.4" stroke="none"/>
<polygon points="786.0,326.6 790.9,331.5 786.0,336.4 781.1,331.5"/><circle cx="786.0" cy="331.5" r="0.6" fill="#9a88d6" fill-opacity="0.4" stroke="none"/>
<polygon points="797.1,322.7 802.0,327.6 797.1,332.5 792.2,327.6"/><circle cx="797.1" cy="327.6" r="0.6" fill="#9a88d6" fill-opacity="0.4" stroke="none"/>
<polygon points="808.2,319.6 813.1,324.5 808.2,329.4 803.3,324.5"/><circle cx="808.2" cy="324.5" r="0.6" fill="#9a88d6" fill-opacity="0.4" stroke="none"/>
<polygon points="819.3,329.8 824.2,334.7 819.3,339.6 814.4,334.7"/><circle cx="819.3" cy="334.7" r="0.6" fill="#9a88d6" fill-opacity="0.4" stroke="none"/>
<polygon points="830.4,340.3 835.3,345.2 830.4,350.1 825.5,345.2"/><circle cx="830.4" cy="345.2" r="0.6" fill="#9a88d6" fill-opacity="0.4" stroke="none"/>
<polygon points="841.4,340.1 846.3,345.0 841.4,349.9 836.5,345.0"/><circle cx="841.4" cy="345.0" r="0.6" fill="#9a88d6" fill-opacity="0.4" stroke="none"/>
<polygon points="852.5,350.8 857.4,355.7 852.5,360.6 847.6,355.7"/><circle cx="852.5" cy="355.7" r="0.6" fill="#9a88d6" fill-opacity="0.4" stroke="none"/>
<polygon points="863.6,352.1 868.5,357.0 863.6,361.9 858.7,357.0"/><circle cx="863.6" cy="357.0" r="0.6" fill="#9a88d6" fill-opacity="0.4" stroke="none"/>
<polygon points="874.7,344.6 879.6,349.5 874.7,354.4 869.8,349.5"/><circle cx="874.7" cy="349.5" r="0.6" fill="#9a88d6" fill-opacity="0.4" stroke="none"/>
<polygon points="885.7,335.5 890.6,340.4 885.7,345.3 880.8,340.4"/><circle cx="885.7" cy="340.4" r="0.6" fill="#9a88d6" fill-opacity="0.4" stroke="none"/>
<polygon points="896.8,348.5 901.7,353.4 896.8,358.3 891.9,353.4"/><circle cx="896.8" cy="353.4" r="0.6" fill="#9a88d6" fill-opacity="0.4" stroke="none"/>
<polygon points="907.9,368.8 912.8,373.7 907.9,378.6 903.0,373.7"/><circle cx="907.9" cy="373.7" r="0.6" fill="#9a88d6" fill-opacity="0.4" stroke="none"/>
<polygon points="919.0,394.1 923.9,399.0 919.0,403.9 914.1,399.0"/><circle cx="919.0" cy="399.0" r="0.6" fill="#9a88d6" fill-opacity="0.4" stroke="none"/>
<polygon points="930.0,408.4 934.9,413.3 930.0,418.2 925.1,413.3"/><circle cx="930.0" cy="413.3" r="0.6" fill="#9a88d6" fill-opacity="0.4" stroke="none"/>
<polygon points="941.1,395.1 946.0,400.0 941.1,404.9 936.2,400.0"/><circle cx="941.1" cy="400.0" r="0.6" fill="#9a88d6" fill-opacity="0.4" stroke="none"/>
<polygon points="952.2,375.9 957.1,380.8 952.2,385.7 947.3,380.8"/><circle cx="952.2" cy="380.8" r="0.6" fill="#9a88d6" fill-opacity="0.4" stroke="none"/>
<polygon points="963.3,381.3 968.2,386.2 963.3,391.1 958.4,386.2"/><circle cx="963.3" cy="386.2" r="0.6" fill="#9a88d6" fill-opacity="0.4" stroke="none"/>
</g>
<g stroke="#d6b453">
<polygon points="128.5,101.5 136.4,97.1 136.4,105.9"/><circle cx="132.5" cy="101.5" r="0.6" fill="#d6b453" fill-opacity="0.4" stroke="none"/>
<polygon points="250.3,213.3 258.2,208.9 258.2,217.7"/><circle cx="254.3" cy="213.3" r="0.6" fill="#d6b453" fill-opacity="0.4" stroke="none"/>
<polygon points="305.7,250.0 313.6,245.6 313.6,254.4"/><circle cx="309.7" cy="250.0" r="0.6" fill="#d6b453" fill-opacity="0.4" stroke="none"/>
<polygon points="316.8,251.3 324.7,246.9 324.7,255.7"/><circle cx="320.8" cy="251.3" r="0.6" fill="#d6b453" fill-opacity="0.4" stroke="none"/>
<polygon points="327.9,258.1 335.8,253.7 335.8,262.5"/><circle cx="331.9" cy="258.1" r="0.6" fill="#d6b453" fill-opacity="0.4" stroke="none"/>
<polygon points="339.0,269.2 346.9,264.8 346.9,273.6"/><circle cx="343.0" cy="269.2" r="0.6" fill="#d6b453" fill-opacity="0.4" stroke="none"/>
<polygon points="361.1,286.4 369.0,282.0 369.0,290.8"/><circle cx="365.1" cy="286.4" r="0.6" fill="#d6b453" fill-opacity="0.4" stroke="none"/>
<polygon points="372.2,312.3 380.1,307.9 380.1,316.7"/><circle cx="376.2" cy="312.3" r="0.6" fill="#d6b453" fill-opacity="0.4" stroke="none"/>
<polygon points="383.3,320.0 391.2,315.6 391.2,324.4"/><circle cx="387.3" cy="320.0" r="0.6" fill="#d6b453" fill-opacity="0.4" stroke="none"/>
<polygon points="394.3,329.4 402.2,325.0 402.2,333.8"/><circle cx="398.3" cy="329.4" r="0.6" fill="#d6b453" fill-opacity="0.4" stroke="none"/>
<polygon points="405.4,345.7 413.3,341.3 413.3,350.1"/><circle cx="409.4" cy="345.7" r="0.6" fill="#d6b453" fill-opacity="0.4" stroke="none"/>
<polygon points="416.5,338.7 424.4,334.3 424.4,343.1"/><circle cx="420.5" cy="338.7" r="0.6" fill="#d6b453" fill-opacity="0.4" stroke="none"/>
<polygon points="427.6,351.2 435.5,346.8 435.5,355.6"/><circle cx="431.6" cy="351.2" r="0.6" fill="#d6b453" fill-opacity="0.4" stroke="none"/>
<polygon points="438.7,358.2 446.6,353.8 446.6,362.6"/><circle cx="442.7" cy="358.2" r="0.6" fill="#d6b453" fill-opacity="0.4" stroke="none"/>
<polygon points="449.7,364.9 457.6,360.5 457.6,369.3"/><circle cx="453.7" cy="364.9" r="0.6" fill="#d6b453" fill-opacity="0.4" stroke="none"/>
<polygon points="460.8,377.9 468.7,373.5 468.7,382.3"/><circle cx="464.8" cy="377.9" r="0.6" fill="#d6b453" fill-opacity="0.4" stroke="none"/>
<polygon points="471.9,414.8 479.8,410.4 479.8,419.2"/><circle cx="475.9" cy="414.8" r="0.6" fill="#d6b453" fill-opacity="0.4" stroke="none"/>
<polygon points="483.0,443.0 490.9,438.6 490.9,447.4"/><circle cx="487.0" cy="443.0" r="0.6" fill="#d6b453" fill-opacity="0.4" stroke="none"/>
<polygon points="494.0,458.6 501.9,454.2 501.9,463.0"/><circle cx="498.0" cy="458.6" r="0.6" fill="#d6b453" fill-opacity="0.4" stroke="none"/>
<polygon points="505.1,462.5 513.0,458.1 513.0,466.9"/><circle cx="509.1" cy="462.5" r="0.6" fill="#d6b453" fill-opacity="0.4" stroke="none"/>
<polygon points="516.2,444.5 524.1,440.1 524.1,448.9"/><circle cx="520.2" cy="444.5" r="0.6" fill="#d6b453" fill-opacity="0.4" stroke="none"/>
<polygon points="527.3,414.5 535.2,410.1 535.2,418.9"/><circle cx="531.3" cy="414.5" r="0.6" fill="#d6b453" fill-opacity="0.4" stroke="none"/>
<polygon points="538.3,435.2 546.2,430.8 546.2,439.6"/><circle cx="542.3" cy="435.2" r="0.6" fill="#d6b453" fill-opacity="0.4" stroke="none"/>
<polygon points="549.4,459.5 557.3,455.1 557.3,463.9"/><circle cx="553.4" cy="459.5" r="0.6" fill="#d6b453" fill-opacity="0.4" stroke="none"/>
<polygon points="560.5,457.1 568.4,452.7 568.4,461.5"/><circle cx="564.5" cy="457.1" r="0.6" fill="#d6b453" fill-opacity="0.4" stroke="none"/>
<polygon points="571.6,446.2 579.5,441.8 579.5,450.6"/><circle cx="575.6" cy="446.2" r="0.6" fill="#d6b453" fill-opacity="0.4" stroke="none"/>
<polygon points="582.7,447.7 590.6,443.3 590.6,452.1"/><circle cx="586.7" cy="447.7" r="0.6" fill="#d6b453" fill-opacity="0.4" stroke="none"/>
<polygon points="593.7,472.0 601.6,467.6 601.6,476.4"/><circle cx="597.7" cy="472.0" r="0.6" fill="#d6b453" fill-opacity="0.4" stroke="none"/>
<polygon points="604.8,483.8 612.7,479.4 612.7,488.2"/><circle cx="608.8" cy="483.8" r="0.6" fill="#d6b453" fill-opacity="0.4" stroke="none"/>
<polygon points="615.9,497.5 623.8,493.1 623.8,501.9"/><circle cx="619.9" cy="497.5" r="0.6" fill="#d6b453" fill-opacity="0.4" stroke="none"/>
<polygon points="627.0,485.4 634.9,481.0 634.9,489.8"/><circle cx="631.0" cy="485.4" r="0.6" fill="#d6b453" fill-opacity="0.4" stroke="none"/>
<polygon points="638.0,457.1 645.9,452.7 645.9,461.5"/><circle cx="642.0" cy="457.1" r="0.6" fill="#d6b453" fill-opacity="0.4" stroke="none"/>
<polygon points="649.1,455.6 657.0,451.2 657.0,460.0"/><circle cx="653.1" cy="455.6" r="0.6" fill="#d6b453" fill-opacity="0.4" stroke="none"/>
<polygon points="660.2,474.3 668.1,469.9 668.1,478.7"/><circle cx="664.2" cy="474.3" r="0.6" fill="#d6b453" fill-opacity="0.4" stroke="none"/>
<polygon points="671.3,516.8 679.2,512.4 679.2,521.2"/><circle cx="675.3" cy="516.8" r="0.6" fill="#d6b453" fill-opacity="0.4" stroke="none"/>
<polygon points="682.4,519.9 690.2,515.5 690.2,524.3"/><circle cx="686.4" cy="519.9" r="0.6" fill="#d6b453" fill-opacity="0.4" stroke="none"/>
<polygon points="693.4,508.1 701.3,503.7 701.3,512.5"/><circle cx="697.4" cy="508.1" r="0.6" fill="#d6b453" fill-opacity="0.4" stroke="none"/>
<polygon points="704.5,524.5 712.4,520.1 712.4,528.9"/><circle cx="708.5" cy="524.5" r="0.6" fill="#d6b453" fill-opacity="0.4" stroke="none"/>
<polygon points="715.6,507.3 723.5,502.9 723.5,511.7"/><circle cx="719.6" cy="507.3" r="0.6" fill="#d6b453" fill-opacity="0.4" stroke="none"/>
<polygon points="726.7,525.0 734.6,520.6 734.6,529.4"/><circle cx="730.7" cy="525.0" r="0.6" fill="#d6b453" fill-opacity="0.4" stroke="none"/>
<polygon points="737.7,555.6 745.6,551.2 745.6,560.0"/><circle cx="741.7" cy="555.6" r="0.6" fill="#d6b453" fill-opacity="0.4" stroke="none"/>
<polygon points="748.8,565.0 756.7,560.6 756.7,569.4"/><circle cx="752.8" cy="565.0" r="0.6" fill="#d6b453" fill-opacity="0.4" stroke="none"/>
<polygon points="759.9,567.9 767.8,563.5 767.8,572.3"/><circle cx="763.9" cy="567.9" r="0.6" fill="#d6b453" fill-opacity="0.4" stroke="none"/>
<polygon points="771.0,568.7 778.9,564.3 778.9,573.1"/><circle cx="775.0" cy="568.7" r="0.6" fill="#d6b453" fill-opacity="0.4" stroke="none"/>
<polygon points="782.0,549.9 789.9,545.5 789.9,554.3"/><circle cx="786.0" cy="549.9" r="0.6" fill="#d6b453" fill-opacity="0.4" stroke="none"/>
<polygon points="793.1,553.0 801.0,548.6 801.0,557.4"/><circle cx="797.1" cy="553.0" r="0.6" fill="#d6b453" fill-opacity="0.4" stroke="none"/>
<polygon points="804.2,555.4 812.1,551.0 812.1,559.8"/><circle cx="808.2" cy="555.4" r="0.6" fill="#d6b453" fill-opacity="0.4" stroke="none"/>
<polygon points="815.3,542.7 823.2,538.3 823.2,547.1"/><circle cx="819.3" cy="542.7" r="0.6" fill="#d6b453" fill-opacity="0.4" stroke="none"/>
<polygon points="826.4,576.3 834.3,571.9 834.3,580.7"/><circle cx="830.4" cy="576.3" r="0.6" fill="#d6b453" fill-opacity="0.4" stroke="none"/>
<polygon points="837.4,564.1 845.3,559.7 845.3,568.5"/><circle cx="841.4" cy="564.1" r="0.6" fill="#d6b453" fill-opacity="0.4" stroke="none"/>
<polygon points="848.5,557.1 856.4,552.7 856.4,561.5"/><circle cx="852.5" cy="557.1" r="0.6" fill="#d6b453" fill-opacity="0.4" stroke="none"/>
<polygon points="859.6,543.8 867.5,539.4 867.5,548.2"/><circle cx="863.6" cy="543.8" r="0.6" fill="#d6b453" fill-opacity="0.4" stroke="none"/>
<polygon points="870.7,526.6 878.6,522.2 878.6,531.0"/><circle cx="874.7" cy="526.6" r="0.6" fill="#d6b453" fill-opacity="0.4" stroke="none"/>
<polygon points="881.7,565.0 889.6,560.6 889.6,569.4"/><circle cx="885.7" cy="565.0" r="0.6" fill="#d6b453" fill-opacity="0.4" stroke="none"/>
<polygon points="892.8,567.2 900.7,562.8 900.7,571.6"/><circle cx="896.8" cy="567.2" r="0.6" fill="#d6b453" fill-opacity="0.4" stroke="none"/>
<polygon points="903.9,587.0 911.8,582.6 911.8,591.4"/><circle cx="907.9" cy="587.0" r="0.6" fill="#d6b453" fill-opacity="0.4" stroke="none"/>
<polygon points="915.0,579.2 922.9,574.8 922.9,583.6"/><circle cx="919.0" cy="579.2" r="0.6" fill="#d6b453" fill-opacity="0.4" stroke="none"/>
<polygon points="926.0,548.7 933.9,544.3 933.9,553.1"/><circle cx="930.0" cy="548.7" r="0.6" fill="#d6b453" fill-opacity="0.4" stroke="none"/>
<polygon points="937.1,562.0 945.0,557.6 945.0,566.4"/><circle cx="941.1" cy="562.0" r="0.6" fill="#d6b453" fill-opacity="0.4" stroke="none"/>
<polygon points="948.2,568.4 956.1,564.0 956.1,572.8"/><circle cx="952.2" cy="568.4" r="0.6" fill="#d6b453" fill-opacity="0.4" stroke="none"/>
<polygon points="959.3,571.4 967.2,567.0 967.2,575.8"/><circle cx="963.3" cy="571.4" r="0.6" fill="#d6b453" fill-opacity="0.4" stroke="none"/>
</g>
</g>
<g clip-path="url(#pa)" fill="none" stroke-width="2.7" stroke-linecap="round" stroke-linejoin="round">
<path d="M132.5 130.1 L139.5 137.6 L146.5 144.7 L153.4 151.6 L160.4 158.1 L167.4 164.4 L174.4 170.3 L181.4 176.0 L188.4 181.4 L195.3 186.5 L202.3 191.4 L209.3 196.1 L216.3 200.5 L223.3 204.7 L230.3 208.7 L237.2 212.5 L244.2 216.1 L251.2 219.5 L258.2 222.7 L265.2 225.8 L272.1 228.7 L279.1 231.5 L286.1 234.1 L293.1 236.5 L300.1 238.9 L307.1 241.1 L314.0 243.2 L321.0 245.2 L328.0 247.1 L335.0 248.9 L342.0 250.6 L349.0 252.3 L355.9 253.8 L362.9 255.3 L369.9 256.8 L376.9 258.1 L383.9 259.5 L390.8 260.7 L397.8 262.0 L404.8 263.2 L411.8 264.3 L418.8 265.5 L425.8 266.6 L432.7 267.7 L439.7 268.8 L446.7 269.9 L453.7 271.0 L460.7 272.0 L467.7 273.1 L474.6 274.2 L481.6 275.3 L488.6 276.4 L495.6 277.5 L502.6 278.7 L509.5 279.8 L516.5 281.0 L523.5 282.2 L530.5 283.5 L537.5 284.7 L544.5 286.0 L551.4 287.4 L558.4 288.7 L565.4 290.1 L572.4 291.6 L579.4 293.1 L586.4 294.6 L593.3 296.1 L600.3 297.7 L607.3 299.3 L614.3 301.0 L621.3 302.7 L628.2 304.5 L635.2 306.3 L642.2 308.1 L649.2 309.9 L656.2 311.8 L663.2 313.8 L670.1 315.7 L677.1 317.7 L684.1 319.8 L691.1 321.8 L698.1 323.9 L705.1 326.0 L712.0 328.1 L719.0 330.3 L726.0 332.5 L733.0 334.6 L740.0 336.8 L746.9 339.0 L753.9 341.2 L760.9 343.4 L767.9 345.6 L774.9 347.8 L781.9 350.0 L788.8 352.1 L795.8 354.3 L802.8 356.4 L809.8 358.5 L816.8 360.5 L823.8 362.5 L830.7 364.5 L837.7 366.4 L844.7 368.2 L851.7 370.0 L858.7 371.8 L865.6 373.4 L872.6 375.0 L879.6 376.4 L886.6 377.8 L893.6 379.1 L900.6 380.2 L907.5 381.3 L914.5 382.2 L921.5 383.0 L928.5 383.6 L935.5 384.1 L942.5 384.5 L949.4 384.6 L956.4 384.6 L963.4 384.4" stroke="#e8000b"/>
<path d="M132.5 148.8 L139.5 152.9 L146.5 157.0 L153.4 161.1 L160.4 165.3 L167.4 169.5 L174.4 173.7 L181.4 178.0 L188.4 182.3 L195.3 186.6 L202.3 190.9 L209.3 195.3 L216.3 199.6 L223.3 204.0 L230.3 208.3 L237.2 212.7 L244.2 217.1 L251.2 221.4 L258.2 225.8 L265.2 230.1 L272.1 234.4 L279.1 238.7 L286.1 243.0 L293.1 247.3 L300.1 251.6 L307.1 255.8 L314.0 260.0 L321.0 264.2 L328.0 268.4 L335.0 272.5 L342.0 276.6 L349.0 280.7 L355.9 284.7 L362.9 288.7 L369.9 292.7 L376.9 296.7 L383.9 300.6 L390.8 304.4 L397.8 308.3 L404.8 312.1 L411.8 315.8 L418.8 319.5 L425.8 323.2 L432.7 326.9 L439.7 330.5 L446.7 334.0 L453.7 337.5 L460.7 341.0 L467.7 344.5 L474.6 347.9 L481.6 351.2 L488.6 354.6 L495.6 357.9 L502.6 361.1 L509.5 364.3 L516.5 367.5 L523.5 370.6 L530.5 373.7 L537.5 376.8 L544.5 379.8 L551.4 382.8 L558.4 385.7 L565.4 388.6 L572.4 391.5 L579.4 394.4 L586.4 397.2 L593.3 400.0 L600.3 402.8 L607.3 405.5 L614.3 408.2 L621.3 410.9 L628.2 413.5 L635.2 416.1 L642.2 418.7 L649.2 421.3 L656.2 423.9 L663.2 426.4 L670.1 428.9 L677.1 431.4 L684.1 433.9 L691.1 436.3 L698.1 438.8 L705.1 441.2 L712.0 443.6 L719.0 446.0 L726.0 448.4 L733.0 450.8 L740.0 453.1 L746.9 455.5 L753.9 457.9 L760.9 460.2 L767.9 462.5 L774.9 464.9 L781.9 467.2 L788.8 469.6 L795.8 471.9 L802.8 474.3 L809.8 476.6 L816.8 478.9 L823.8 481.3 L830.7 483.7 L837.7 486.0 L844.7 488.4 L851.7 490.8 L858.7 493.2 L865.6 495.6 L872.6 498.0 L879.6 500.4 L886.6 502.8 L893.6 505.3 L900.6 507.8 L907.5 510.2 L914.5 512.7 L921.5 515.2 L928.5 517.8 L935.5 520.3 L942.5 522.9 L949.4 525.5 L956.4 528.1 L963.4 530.7" stroke="#000000"/>
<path d="M132.5 142.5 L139.5 145.6 L146.5 148.9 L153.4 152.4 L160.4 156.0 L167.4 159.7 L174.4 163.6 L181.4 167.6 L188.4 171.7 L195.3 175.9 L202.3 180.2 L209.3 184.6 L216.3 189.1 L223.3 193.6 L230.3 198.2 L237.2 202.9 L244.2 207.7 L251.2 212.5 L258.2 217.4 L265.2 222.3 L272.1 227.3 L279.1 232.2 L286.1 237.3 L293.1 242.3 L300.1 247.4 L307.1 252.5 L314.0 257.6 L321.0 262.7 L328.0 267.8 L335.0 272.9 L342.0 278.0 L349.0 283.1 L355.9 288.2 L362.9 293.3 L369.9 298.3 L376.9 303.4 L383.9 308.4 L390.8 313.4 L397.8 318.4 L404.8 323.3 L411.8 328.2 L418.8 333.1 L425.8 337.9 L432.7 342.7 L439.7 347.4 L446.7 352.1 L453.7 356.7 L460.7 361.3 L467.7 365.9 L474.6 370.4 L481.6 374.8 L488.6 379.2 L495.6 383.6 L502.6 387.9 L509.5 392.1 L516.5 396.3 L523.5 400.4 L530.5 404.4 L537.5 408.4 L544.5 412.4 L551.4 416.2 L558.4 420.0 L565.4 423.8 L572.4 427.5 L579.4 431.1 L586.4 434.7 L593.3 438.2 L600.3 441.7 L607.3 445.1 L614.3 448.4 L621.3 451.7 L628.2 454.9 L635.2 458.1 L642.2 461.2 L649.2 464.2 L656.2 467.3 L663.2 470.2 L670.1 473.1 L677.1 476.0 L684.1 478.8 L691.1 481.5 L698.1 484.3 L705.1 486.9 L712.0 489.6 L719.0 492.2 L726.0 494.7 L733.0 497.2 L740.0 499.7 L746.9 502.2 L753.9 504.6 L760.9 507.0 L767.9 509.4 L774.9 511.8 L781.9 514.1 L788.8 516.4 L795.8 518.7 L802.8 521.0 L809.8 523.3 L816.8 525.6 L823.8 527.8 L830.7 530.1 L837.7 532.4 L844.7 534.7 L851.7 537.0 L858.7 539.3 L865.6 541.6 L872.6 543.9 L879.6 546.2 L886.6 548.6 L893.6 551.0 L900.6 553.5 L907.5 555.9 L914.5 558.4 L921.5 561.0 L928.5 563.6 L935.5 566.2 L942.5 568.9 L949.4 571.6 L956.4 574.5 L963.4 577.3" stroke="#1f5bd1"/>
<path d="M132.5 133.2 L140.1 137.8 L147.7 142.4 L155.3 146.8 L163.0 151.2 L170.6 155.6 L178.2 159.8 L185.8 164.0 L193.4 168.1 L201.0 172.2 L208.6 176.1 L216.2 180.0 L223.9 183.8 L231.5 187.5 L239.1 191.1 L246.7 194.7 L254.3 198.1 L261.9 201.5 L269.5 204.8 L277.2 208.0 L284.8 211.1 L292.4 214.1 L300.0 217.1" stroke="#a065e0" stroke-dasharray="15.5 11.4 1.5 11.5" stroke-dashoffset="11.73"/>
<path d="M300.0 217.1 L307.2 219.8 L314.4 222.5 L321.7 225.1 L328.9 227.6 L336.1 230.0 L343.3 232.4 L350.6 234.7 L357.8 237.0 L365.0 239.2 L372.2 241.3 L379.4 243.4 L386.7 245.4 L393.9 247.4 L401.1 249.3 L408.3 251.1 L415.6 253.0 L422.8 254.7 L430.0 256.5 L437.2 258.1 L444.4 259.8 L451.7 261.4 L458.9 263.0 L466.1 264.5 L473.3 266.1 L480.6 267.6 L487.8 269.0 L495.0 270.5 L502.2 271.9 L509.4 273.4 L516.7 274.8 L523.9 276.2 L531.1 277.6 L538.3 279.0 L545.6 280.4 L552.8 281.8 L560.0 283.2 L567.2 284.6 L574.4 286.0 L581.7 287.4 L588.9 288.8 L596.1 290.3 L603.3 291.7 L610.6 293.2 L617.8 294.7 L625.0 296.2 L632.2 297.7 L639.4 299.3 L646.7 300.9 L653.9 302.5 L661.1 304.2 L668.3 305.8 L675.6 307.5 L682.8 309.3 L690.0 311.1" stroke="#a065e0" stroke-dasharray="15.5 11.4 1.5 11.5" stroke-dashoffset="0.56"/>
<path d="M690.0 311.1 L697.2 312.9 L704.4 314.7 L711.6 316.6 L718.8 318.4 L726.0 320.4 L733.2 322.3 L740.4 324.3 L747.6 326.4 L754.8 328.4 L761.9 330.5 L769.1 332.6 L776.3 334.8 L783.5 337.0 L790.7 339.2 L797.9 341.4 L805.1 343.6 L812.3 345.9 L819.5 348.2 L826.7 350.5 L833.9 352.8 L841.1 355.1 L848.3 357.4 L855.5 359.7 L862.7 362.0 L869.9 364.3 L877.1 366.6 L884.3 368.8 L891.5 371.1 L898.6 373.3 L905.8 375.5 L913.0 377.6 L920.2 379.7 L927.4 381.8 L934.6 383.7 L941.8 385.6 L949.0 387.5 L956.2 389.2 L963.4 390.9" stroke="#a065e0" stroke-dasharray="15.5 11.4 1.5 11.5" stroke-dashoffset="14.98"/>
<path d="M132.5 119.0 L140.1 125.2 L147.7 131.2 L155.3 137.2 L163.0 143.1 L170.6 148.8 L178.2 154.5 L185.8 160.1 L193.4 165.6 L201.0 171.0 L208.6 176.4 L216.2 181.6 L223.9 186.8 L231.5 191.9 L239.1 197.0 L246.7 201.9 L254.3 206.9 L261.9 211.7 L269.5 216.5 L277.2 221.2 L284.8 225.9 L292.4 230.5 L300.0 235.1" stroke="#2b9a66" stroke-dasharray="15.5 11.4 1.5 11.5" stroke-dashoffset="39.31"/>
<path d="M300.0 235.1 L307.1 239.4 L314.3 243.6 L321.4 247.7 L328.5 251.9 L335.7 256.0 L342.8 260.0 L349.9 264.1 L357.1 268.1 L364.2 272.1 L371.3 276.0 L378.5 279.9 L385.6 283.8 L392.7 287.7 L399.9 291.6 L407.0 295.4 L414.1 299.2 L421.3 303.0 L428.4 306.8 L435.5 310.6 L442.7 314.3 L449.8 318.0 L456.9 321.8 L464.1 325.5 L471.2 329.2 L478.3 332.8 L485.5 336.5 L492.6 340.1 L499.7 343.8 L506.9 347.4 L514.0 351.0 L521.1 354.6 L528.3 358.2 L535.4 361.8 L542.5 365.4 L549.7 369.0 L556.8 372.5 L563.9 376.0 L571.1 379.6 L578.2 383.1 L585.3 386.6 L592.5 390.1 L599.6 393.6 L606.7 397.0 L613.9 400.5 L621.0 403.9 L628.1 407.3 L635.3 410.7 L642.4 414.1 L649.5 417.5 L656.7 420.8 L663.8 424.2 L670.9 427.5 L678.1 430.8 L685.2 434.0 L692.3 437.2 L699.5 440.5 L706.6 443.6 L713.7 446.8 L720.9 449.9 L728.0 453.0 L735.1 456.0 L742.3 459.0 L749.4 462.0 L756.5 464.9 L763.7 467.8 L770.8 470.6 L777.9 473.4 L785.1 476.1 L792.2 478.8 L799.3 481.4 L806.5 484.0 L813.6 486.5 L820.7 488.9 L827.9 491.3 L835.0 493.6 L842.1 495.8 L849.3 497.9 L856.4 500.0 L863.5 502.0 L870.7 503.9 L877.8 505.7 L884.9 507.5 L892.1 509.1 L899.2 510.6 L906.3 512.1 L913.5 513.4 L920.6 514.6 L927.7 515.7 L934.9 516.7 L942.0 517.5 L949.1 518.3 L956.3 518.9 L963.4 519.3" stroke="#2b9a66" stroke-dasharray="15.5 11.4 1.5 11.5" stroke-dashoffset="11.35"/>
<path d="M132.5 134.3 L139.9 138.2 L147.2 142.3 L154.6 146.6 L161.9 151.0 L169.3 155.5 L176.6 160.1 L184.0 164.9 L191.4 169.8 L198.7 174.8 L206.1 179.9 L213.4 185.1 L220.8 190.4 L228.1 195.8 L235.5 201.3 L242.9 206.8 L250.2 212.4 L257.6 218.1 L264.9 223.8 L272.3 229.6 L279.6 235.4 L287.0 241.3 L294.4 247.2 L301.7 253.2 L309.1 259.1 L316.4 265.1 L323.8 271.1 L331.1 277.1 L338.5 283.1 L345.9 289.2 L353.2 295.2 L360.6 301.2 L367.9 307.2 L375.3 313.2 L382.6 319.2 L390.0 325.2" stroke="#cf9d12" stroke-dasharray="15.5 11.4 1.5 11.5" stroke-dashoffset="6.32"/>
<path d="M390.0 325.2 L397.2 331.0 L404.4 336.8 L411.7 342.6 L418.9 348.3 L426.1 354.0 L433.3 359.7 L440.6 365.3 L447.8 370.9 L455.0 376.4 L462.2 381.9 L469.4 387.3 L476.7 392.7 L483.9 398.0 L491.1 403.2 L498.3 408.4 L505.6 413.5 L512.8 418.6 L520.0 423.6 L527.2 428.5 L534.4 433.3 L541.7 438.1 L548.9 442.8 L556.1 447.4 L563.3 451.9 L570.6 456.4 L577.8 460.8 L585.0 465.0 L592.2 469.2 L599.4 473.4 L606.7 477.4 L613.9 481.3 L621.1 485.2 L628.3 488.9 L635.6 492.6 L642.8 496.2 L650.0 499.7 L657.2 503.1 L664.4 506.4 L671.7 509.6 L678.9 512.7 L686.1 515.7 L693.3 518.7 L700.6 521.5 L707.8 524.3 L715.0 526.9 L722.2 529.5 L729.4 531.9 L736.7 534.3 L743.9 536.6 L751.1 538.8 L758.3 540.9 L765.6 542.9 L772.8 544.9 L780.0 546.7" stroke="#cf9d12" stroke-dasharray="15.5 11.4 1.5 11.5" stroke-dashoffset="21.09"/>
<path d="M780.0 546.7 L787.3 548.5 L794.7 550.2 L802.0 551.8 L809.3 553.3 L816.7 554.7 L824.0 556.0 L831.4 557.3 L838.7 558.5 L846.0 559.6 L853.4 560.6 L860.7 561.5 L868.0 562.4 L875.4 563.2 L882.7 563.9 L890.0 564.6 L897.4 565.2 L904.7 565.7 L912.0 566.2 L919.4 566.6 L926.7 566.9 L934.1 567.2 L941.4 567.4 L948.7 567.6 L956.1 567.7 L963.4 567.8" stroke="#cf9d12" stroke-dasharray="15.5 11.4 1.5 11.5" stroke-dashoffset="29.96"/>
</g>
<g clip-path="url(#pa)" fill="#fff" stroke-width="1.15">
<g stroke="#6b2a36">
<polygon points="132.5,102.9 136.8,106.0 135.1,111.0 129.9,111.0 128.2,106.0"/><circle cx="132.5" cy="106.9" r="0.6" fill="#6b2a36" fill-opacity="0.4" stroke="none"/>
<polygon points="143.6,131.4 147.9,134.5 146.2,139.5 140.9,139.5 139.3,134.5"/><circle cx="143.6" cy="135.4" r="0.6" fill="#6b2a36" fill-opacity="0.4" stroke="none"/>
<polygon points="154.7,151.6 158.9,154.7 157.3,159.7 152.0,159.7 150.4,154.7"/><circle cx="154.7" cy="155.6" r="0.6" fill="#6b2a36" fill-opacity="0.4" stroke="none"/>
<polygon points="165.7,165.8 170.0,168.9 168.4,173.9 163.1,173.9 161.5,168.9"/><circle cx="165.7" cy="169.8" r="0.6" fill="#6b2a36" fill-opacity="0.4" stroke="none"/>
<polygon points="176.8,175.3 181.1,178.4 179.5,183.4 174.2,183.4 172.5,178.4"/><circle cx="176.8" cy="179.3" r="0.6" fill="#6b2a36" fill-opacity="0.4" stroke="none"/>
<polygon points="187.9,176.2 192.2,179.3 190.5,184.3 185.2,184.3 183.6,179.3"/><circle cx="187.9" cy="180.2" r="0.6" fill="#6b2a36" fill-opacity="0.4" stroke="none"/>
<polygon points="199.0,177.3 203.2,180.4 201.6,185.4 196.3,185.4 194.7,180.4"/><circle cx="199.0" cy="181.3" r="0.6" fill="#6b2a36" fill-opacity="0.4" stroke="none"/>
<polygon points="210.0,186.4 214.3,189.5 212.7,194.5 207.4,194.5 205.8,189.5"/><circle cx="210.0" cy="190.4" r="0.6" fill="#6b2a36" fill-opacity="0.4" stroke="none"/>
<polygon points="221.1,180.2 225.4,183.3 223.8,188.3 218.5,188.3 216.8,183.3"/><circle cx="221.1" cy="184.2" r="0.6" fill="#6b2a36" fill-opacity="0.4" stroke="none"/>
<polygon points="232.2,173.0 236.5,176.1 234.8,181.1 229.5,181.1 227.9,176.1"/><circle cx="232.2" cy="177.0" r="0.6" fill="#6b2a36" fill-opacity="0.4" stroke="none"/>
<polygon points="243.3,184.3 247.5,187.4 245.9,192.4 240.6,192.4 239.0,187.4"/><circle cx="243.3" cy="188.3" r="0.6" fill="#6b2a36" fill-opacity="0.4" stroke="none"/>
<polygon points="254.3,195.5 258.6,198.6 257.0,203.6 251.7,203.6 250.1,198.6"/><circle cx="254.3" cy="199.5" r="0.6" fill="#6b2a36" fill-opacity="0.4" stroke="none"/>
<polygon points="265.4,193.6 269.7,196.7 268.1,201.7 262.8,201.7 261.1,196.7"/><circle cx="265.4" cy="197.6" r="0.6" fill="#6b2a36" fill-opacity="0.4" stroke="none"/>
<polygon points="276.5,195.6 280.8,198.7 279.1,203.7 273.9,203.7 272.2,198.7"/><circle cx="276.5" cy="199.6" r="0.6" fill="#6b2a36" fill-opacity="0.4" stroke="none"/>
<polygon points="287.6,208.6 291.9,211.7 290.2,216.7 284.9,216.7 283.3,211.7"/><circle cx="287.6" cy="212.6" r="0.6" fill="#6b2a36" fill-opacity="0.4" stroke="none"/>
<polygon points="298.7,231.0 302.9,234.1 301.3,239.1 296.0,239.1 294.4,234.1"/><circle cx="298.7" cy="235.0" r="0.6" fill="#6b2a36" fill-opacity="0.4" stroke="none"/>
<polygon points="309.7,229.2 314.0,232.3 312.4,237.3 307.1,237.3 305.5,232.3"/><circle cx="309.7" cy="233.2" r="0.6" fill="#6b2a36" fill-opacity="0.4" stroke="none"/>
<polygon points="320.8,217.5 325.1,220.6 323.5,225.6 318.2,225.6 316.5,220.6"/><circle cx="320.8" cy="221.5" r="0.6" fill="#6b2a36" fill-opacity="0.4" stroke="none"/>
<polygon points="331.9,217.5 336.2,220.6 334.5,225.6 329.2,225.6 327.6,220.6"/><circle cx="331.9" cy="221.5" r="0.6" fill="#6b2a36" fill-opacity="0.4" stroke="none"/>
<polygon points="343.0,231.8 347.2,234.9 345.6,239.9 340.3,239.9 338.7,234.9"/><circle cx="343.0" cy="235.8" r="0.6" fill="#6b2a36" fill-opacity="0.4" stroke="none"/>
<polygon points="354.0,241.0 358.3,244.1 356.7,249.1 351.4,249.1 349.8,244.1"/><circle cx="354.0" cy="245.0" r="0.6" fill="#6b2a36" fill-opacity="0.4" stroke="none"/>
<polygon points="365.1,236.2 369.4,239.3 367.8,244.3 362.5,244.3 360.8,239.3"/><circle cx="365.1" cy="240.2" r="0.6" fill="#6b2a36" fill-opacity="0.4" stroke="none"/>
<polygon points="376.2,250.3 380.5,253.4 378.8,258.4 373.5,258.4 371.9,253.4"/><circle cx="376.2" cy="254.3" r="0.6" fill="#6b2a36" fill-opacity="0.4" stroke="none"/>
<polygon points="387.3,236.2 391.6,239.3 389.9,244.3 384.6,244.3 383.0,239.3"/><circle cx="387.3" cy="240.2" r="0.6" fill="#6b2a36" fill-opacity="0.4" stroke="none"/>
<polygon points="398.3,222.8 402.6,225.9 401.0,230.9 395.7,230.9 394.1,225.9"/><circle cx="398.3" cy="226.8" r="0.6" fill="#6b2a36" fill-opacity="0.4" stroke="none"/>
<polygon points="409.4,219.5 413.7,222.6 412.1,227.6 406.8,227.6 405.1,222.6"/><circle cx="409.4" cy="223.5" r="0.6" fill="#6b2a36" fill-opacity="0.4" stroke="none"/>
<polygon points="420.5,235.9 424.8,239.0 423.1,244.0 417.9,244.0 416.2,239.0"/><circle cx="420.5" cy="239.9" r="0.6" fill="#6b2a36" fill-opacity="0.4" stroke="none"/>
<polygon points="431.6,251.6 435.9,254.7 434.2,259.7 428.9,259.7 427.3,254.7"/><circle cx="431.6" cy="255.6" r="0.6" fill="#6b2a36" fill-opacity="0.4" stroke="none"/>
<polygon points="442.7,250.0 446.9,253.1 445.3,258.1 440.0,258.1 438.4,253.1"/><circle cx="442.7" cy="254.0" r="0.6" fill="#6b2a36" fill-opacity="0.4" stroke="none"/>
<polygon points="453.7,246.9 458.0,250.0 456.4,255.0 451.1,255.0 449.5,250.0"/><circle cx="453.7" cy="250.9" r="0.6" fill="#6b2a36" fill-opacity="0.4" stroke="none"/>
<polygon points="464.8,248.4 469.1,251.5 467.5,256.5 462.2,256.5 460.5,251.5"/><circle cx="464.8" cy="252.4" r="0.6" fill="#6b2a36" fill-opacity="0.4" stroke="none"/>
<polygon points="475.9,250.8 480.2,253.9 478.5,258.9 473.2,258.9 471.6,253.9"/><circle cx="475.9" cy="254.8" r="0.6" fill="#6b2a36" fill-opacity="0.4" stroke="none"/>
<polygon points="487.0,241.8 491.2,244.9 489.6,249.9 484.3,249.9 482.7,244.9"/><circle cx="487.0" cy="245.8" r="0.6" fill="#6b2a36" fill-opacity="0.4" stroke="none"/>
<polygon points="498.0,235.7 502.3,238.8 500.7,243.8 495.4,243.8 493.8,238.8"/><circle cx="498.0" cy="239.7" r="0.6" fill="#6b2a36" fill-opacity="0.4" stroke="none"/>
<polygon points="509.1,242.0 513.4,245.1 511.8,250.1 506.5,250.1 504.8,245.1"/><circle cx="509.1" cy="246.0" r="0.6" fill="#6b2a36" fill-opacity="0.4" stroke="none"/>
<polygon points="520.2,253.9 524.5,257.0 522.8,262.0 517.5,262.0 515.9,257.0"/><circle cx="520.2" cy="257.9" r="0.6" fill="#6b2a36" fill-opacity="0.4" stroke="none"/>
<polygon points="531.3,262.5 535.6,265.6 533.9,270.6 528.6,270.6 527.0,265.6"/><circle cx="531.3" cy="266.5" r="0.6" fill="#6b2a36" fill-opacity="0.4" stroke="none"/>
<polygon points="542.3,265.8 546.6,268.9 545.0,273.9 539.7,273.9 538.1,268.9"/><circle cx="542.3" cy="269.8" r="0.6" fill="#6b2a36" fill-opacity="0.4" stroke="none"/>
<polygon points="553.4,251.0 557.7,254.1 556.1,259.1 550.8,259.1 549.1,254.1"/><circle cx="553.4" cy="255.0" r="0.6" fill="#6b2a36" fill-opacity="0.4" stroke="none"/>
<polygon points="564.5,250.3 568.8,253.4 567.1,258.4 561.9,258.4 560.2,253.4"/><circle cx="564.5" cy="254.3" r="0.6" fill="#6b2a36" fill-opacity="0.4" stroke="none"/>
<polygon points="575.6,255.0 579.9,258.1 578.2,263.1 572.9,263.1 571.3,258.1"/><circle cx="575.6" cy="259.0" r="0.6" fill="#6b2a36" fill-opacity="0.4" stroke="none"/>
<polygon points="586.7,255.0 590.9,258.1 589.3,263.1 584.0,263.1 582.4,258.1"/><circle cx="586.7" cy="259.0" r="0.6" fill="#6b2a36" fill-opacity="0.4" stroke="none"/>
<polygon points="597.7,256.5 602.0,259.6 600.4,264.6 595.1,264.6 593.5,259.6"/><circle cx="597.7" cy="260.5" r="0.6" fill="#6b2a36" fill-opacity="0.4" stroke="none"/>
<polygon points="608.8,267.5 613.1,270.6 611.5,275.6 606.2,275.6 604.5,270.6"/><circle cx="608.8" cy="271.5" r="0.6" fill="#6b2a36" fill-opacity="0.4" stroke="none"/>
<polygon points="619.9,279.2 624.2,282.3 622.5,287.3 617.2,287.3 615.6,282.3"/><circle cx="619.9" cy="283.2" r="0.6" fill="#6b2a36" fill-opacity="0.4" stroke="none"/>
<polygon points="631.0,279.2 635.2,282.3 633.6,287.3 628.3,287.3 626.7,282.3"/><circle cx="631.0" cy="283.2" r="0.6" fill="#6b2a36" fill-opacity="0.4" stroke="none"/>
<polygon points="642.0,269.0 646.3,272.1 644.7,277.1 639.4,277.1 637.8,272.1"/><circle cx="642.0" cy="273.0" r="0.6" fill="#6b2a36" fill-opacity="0.4" stroke="none"/>
<polygon points="653.1,269.0 657.4,272.1 655.8,277.1 650.5,277.1 648.8,272.1"/><circle cx="653.1" cy="273.0" r="0.6" fill="#6b2a36" fill-opacity="0.4" stroke="none"/>
<polygon points="664.2,250.3 668.5,253.4 666.8,258.4 661.6,258.4 659.9,253.4"/><circle cx="664.2" cy="254.3" r="0.6" fill="#6b2a36" fill-opacity="0.4" stroke="none"/>
<polygon points="675.3,268.3 679.6,271.4 677.9,276.4 672.6,276.4 671.0,271.4"/><circle cx="675.3" cy="272.3" r="0.6" fill="#6b2a36" fill-opacity="0.4" stroke="none"/>
<polygon points="686.4,286.2 690.6,289.3 689.0,294.3 683.7,294.3 682.1,289.3"/><circle cx="686.4" cy="290.2" r="0.6" fill="#6b2a36" fill-opacity="0.4" stroke="none"/>
<polygon points="697.4,282.0 701.7,285.1 700.1,290.1 694.8,290.1 693.1,285.1"/><circle cx="697.4" cy="286.0" r="0.6" fill="#6b2a36" fill-opacity="0.4" stroke="none"/>
<polygon points="708.5,268.1 712.8,271.2 711.1,276.2 705.9,276.2 704.2,271.2"/><circle cx="708.5" cy="272.1" r="0.6" fill="#6b2a36" fill-opacity="0.4" stroke="none"/>
<polygon points="719.6,257.9 723.9,261.0 722.2,266.0 716.9,266.0 715.3,261.0"/><circle cx="719.6" cy="261.9" r="0.6" fill="#6b2a36" fill-opacity="0.4" stroke="none"/>
<polygon points="730.7,274.3 734.9,277.4 733.3,282.4 728.0,282.4 726.4,277.4"/><circle cx="730.7" cy="278.3" r="0.6" fill="#6b2a36" fill-opacity="0.4" stroke="none"/>
<polygon points="741.7,293.9 746.0,297.0 744.4,302.0 739.1,302.0 737.5,297.0"/><circle cx="741.7" cy="297.9" r="0.6" fill="#6b2a36" fill-opacity="0.4" stroke="none"/>
<polygon points="752.8,288.9 757.1,292.0 755.5,297.0 750.2,297.0 748.5,292.0"/><circle cx="752.8" cy="292.9" r="0.6" fill="#6b2a36" fill-opacity="0.4" stroke="none"/>
<polygon points="763.9,254.5 768.2,257.6 766.5,262.6 761.2,262.6 759.6,257.6"/><circle cx="763.9" cy="258.5" r="0.6" fill="#6b2a36" fill-opacity="0.4" stroke="none"/>
<polygon points="775.0,262.6 779.2,265.7 777.6,270.7 772.3,270.7 770.7,265.7"/><circle cx="775.0" cy="266.6" r="0.6" fill="#6b2a36" fill-opacity="0.4" stroke="none"/>
<polygon points="786.0,299.4 790.3,302.5 788.7,307.5 783.4,307.5 781.8,302.5"/><circle cx="786.0" cy="303.4" r="0.6" fill="#6b2a36" fill-opacity="0.4" stroke="none"/>
<polygon points="797.1,286.1 801.4,289.2 799.8,294.2 794.5,294.2 792.8,289.2"/><circle cx="797.1" cy="290.1" r="0.6" fill="#6b2a36" fill-opacity="0.4" stroke="none"/>
<polygon points="808.2,261.4 812.5,264.5 810.8,269.5 805.6,269.5 803.9,264.5"/><circle cx="808.2" cy="265.4" r="0.6" fill="#6b2a36" fill-opacity="0.4" stroke="none"/>
<polygon points="819.3,272.3 823.6,275.4 821.9,280.4 816.6,280.4 815.0,275.4"/><circle cx="819.3" cy="276.3" r="0.6" fill="#6b2a36" fill-opacity="0.4" stroke="none"/>
<polygon points="830.4,284.7 834.6,287.8 833.0,292.8 827.7,292.8 826.1,287.8"/><circle cx="830.4" cy="288.7" r="0.6" fill="#6b2a36" fill-opacity="0.4" stroke="none"/>
<polygon points="841.4,279.9 845.7,283.0 844.1,288.0 838.8,288.0 837.1,283.0"/><circle cx="841.4" cy="283.9" r="0.6" fill="#6b2a36" fill-opacity="0.4" stroke="none"/>
<polygon points="852.5,275.2 856.8,278.3 855.2,283.3 849.9,283.3 848.2,278.3"/><circle cx="852.5" cy="279.2" r="0.6" fill="#6b2a36" fill-opacity="0.4" stroke="none"/>
<polygon points="863.6,279.1 867.9,282.2 866.2,287.2 860.9,287.2 859.3,282.2"/><circle cx="863.6" cy="283.1" r="0.6" fill="#6b2a36" fill-opacity="0.4" stroke="none"/>
<polygon points="874.7,289.5 878.9,292.6 877.3,297.6 872.0,297.6 870.4,292.6"/><circle cx="874.7" cy="293.5" r="0.6" fill="#6b2a36" fill-opacity="0.4" stroke="none"/>
<polygon points="885.7,281.3 890.0,284.4 888.4,289.4 883.1,289.4 881.5,284.4"/><circle cx="885.7" cy="285.3" r="0.6" fill="#6b2a36" fill-opacity="0.4" stroke="none"/>
<polygon points="896.8,305.3 901.1,308.4 899.5,313.4 894.2,313.4 892.5,308.4"/><circle cx="896.8" cy="309.3" r="0.6" fill="#6b2a36" fill-opacity="0.4" stroke="none"/>
<polygon points="907.9,301.4 912.2,304.5 910.5,309.5 905.2,309.5 903.6,304.5"/><circle cx="907.9" cy="305.4" r="0.6" fill="#6b2a36" fill-opacity="0.4" stroke="none"/>
<polygon points="919.0,299.6 923.2,302.7 921.6,307.7 916.3,307.7 914.7,302.7"/><circle cx="919.0" cy="303.6" r="0.6" fill="#6b2a36" fill-opacity="0.4" stroke="none"/>
<polygon points="930.0,313.7 934.3,316.8 932.7,321.8 927.4,321.8 925.8,316.8"/><circle cx="930.0" cy="317.7" r="0.6" fill="#6b2a36" fill-opacity="0.4" stroke="none"/>
<polygon points="941.1,308.3 945.4,311.4 943.8,316.4 938.5,316.4 936.8,311.4"/><circle cx="941.1" cy="312.3" r="0.6" fill="#6b2a36" fill-opacity="0.4" stroke="none"/>
<polygon points="952.2,322.7 956.5,325.8 954.8,330.8 949.6,330.8 947.9,325.8"/><circle cx="952.2" cy="326.7" r="0.6" fill="#6b2a36" fill-opacity="0.4" stroke="none"/>
<polygon points="963.3,300.3 967.6,303.4 965.9,308.4 960.6,308.4 959.0,303.4"/><circle cx="963.3" cy="304.3" r="0.6" fill="#6b2a36" fill-opacity="0.4" stroke="none"/>
</g>
</g>
<g clip-path="url(#pa)" fill="none" stroke-width="2.7" stroke-linecap="round" stroke-linejoin="round">
<path d="M132.5 133.1 L139.5 138.1 L146.5 143.0 L153.4 147.7 L160.4 152.3 L167.4 156.8 L174.4 161.1 L181.4 165.3 L188.4 169.4 L195.3 173.3 L202.3 177.1 L209.3 180.8 L216.3 184.3 L223.3 187.8 L230.3 191.1 L237.2 194.3 L244.2 197.4 L251.2 200.4 L258.2 203.3 L265.2 206.1 L272.1 208.8 L279.1 211.4 L286.1 213.9 L293.1 216.3 L300.1 218.6 L307.1 220.8 L314.0 223.0 L321.0 225.0 L328.0 227.0 L335.0 228.9 L342.0 230.7 L349.0 232.5 L355.9 234.1 L362.9 235.7 L369.9 237.3 L376.9 238.8 L383.9 240.2 L390.8 241.5 L397.8 242.8 L404.8 244.1 L411.8 245.3 L418.8 246.4 L425.8 247.5 L432.7 248.5 L439.7 249.5 L446.7 250.5 L453.7 251.4 L460.7 252.3 L467.7 253.1 L474.6 253.9 L481.6 254.7 L488.6 255.5 L495.6 256.2 L502.6 256.9 L509.5 257.5 L516.5 258.2 L523.5 258.8 L530.5 259.4 L537.5 260.0 L544.5 260.6 L551.4 261.1 L558.4 261.7 L565.4 262.2 L572.4 262.8 L579.4 263.3 L586.4 263.8 L593.3 264.3 L600.3 264.8 L607.3 265.4 L614.3 265.9 L621.3 266.4 L628.2 266.9 L635.2 267.4 L642.2 268.0 L649.2 268.5 L656.2 269.1 L663.2 269.6 L670.1 270.2 L677.1 270.8 L684.1 271.4 L691.1 272.0 L698.1 272.6 L705.1 273.3 L712.0 273.9 L719.0 274.6 L726.0 275.3 L733.0 276.0 L740.0 276.8 L746.9 277.6 L753.9 278.3 L760.9 279.2 L767.9 280.0 L774.9 280.9 L781.9 281.8 L788.8 282.7 L795.8 283.6 L802.8 284.6 L809.8 285.6 L816.8 286.6 L823.8 287.6 L830.7 288.7 L837.7 289.8 L844.7 291.0 L851.7 292.1 L858.7 293.3 L865.6 294.5 L872.6 295.8 L879.6 297.0 L886.6 298.3 L893.6 299.7 L900.6 301.0 L907.5 302.4 L914.5 303.8 L921.5 305.3 L928.5 306.7 L935.5 308.2 L942.5 309.7 L949.4 311.2 L956.4 312.8 L963.4 314.4" stroke="#7d0a0a"/>
</g>
<g stroke="#000" stroke-width="2.1"><line x1="105.4" y1="0" x2="105.4" y2="627.4" /><line x1="104.4" y1="626.4" x2="1025" y2="626.4" /><line x1="104.4" y1="1.1" x2="1025" y2="1.1" style="stroke-width:2.4"/><line x1="1023.9" y1="0" x2="1023.9" y2="627.4" style="stroke-width:3"/><line x1="105.4" y1="618.4" x2="110.9" y2="618.4"/><line x1="105.4" y1="608.2" x2="116.9" y2="608.2"/><line x1="105.4" y1="540.9" x2="110.9" y2="540.9"/><line x1="105.4" y1="501.6" x2="110.9" y2="501.6"/><line x1="105.4" y1="473.6" x2="110.9" y2="473.6"/><line x1="105.4" y1="452.0" x2="110.9" y2="452.0"/><line x1="105.4" y1="434.3" x2="110.9" y2="434.3"/><line x1="105.4" y1="419.3" x2="110.9" y2="419.3"/><line x1="105.4" y1="406.4" x2="110.9" y2="406.4"/><line x1="105.4" y1="394.9" x2="110.9" y2="394.9"/><line x1="105.4" y1="384.7" x2="116.9" y2="384.7"/><line x1="105.4" y1="317.4" x2="110.9" y2="317.4"/><line x1="105.4" y1="278.1" x2="110.9" y2="278.1"/><line x1="105.4" y1="250.1" x2="110.9" y2="250.1"/><line x1="105.4" y1="228.5" x2="110.9" y2="228.5"/><line x1="105.4" y1="210.8" x2="110.9" y2="210.8"/><line x1="105.4" y1="195.8" x2="110.9" y2="195.8"/><line x1="105.4" y1="182.9" x2="110.9" y2="182.9"/><line x1="105.4" y1="171.4" x2="110.9" y2="171.4"/><line x1="105.4" y1="161.2" x2="116.9" y2="161.2"/><line x1="105.4" y1="93.9" x2="110.9" y2="93.9"/><line x1="105.4" y1="54.6" x2="110.9" y2="54.6"/><line x1="105.4" y1="26.6" x2="110.9" y2="26.6"/><line x1="105.4" y1="5.0" x2="110.9" y2="5.0"/><line x1="132.5" y1="626.4" x2="132.5" y2="613.9"/><line x1="201.0" y1="626.4" x2="201.0" y2="620.2"/><line x1="269.6" y1="626.4" x2="269.6" y2="613.9"/><line x1="338.1" y1="626.4" x2="338.1" y2="620.2"/><line x1="406.6" y1="626.4" x2="406.6" y2="613.9"/><line x1="475.1" y1="626.4" x2="475.1" y2="620.2"/><line x1="543.6" y1="626.4" x2="543.6" y2="613.9"/><line x1="612.2" y1="626.4" x2="612.2" y2="620.2"/><line x1="680.7" y1="626.4" x2="680.7" y2="613.9"/><line x1="749.2" y1="626.4" x2="749.2" y2="620.2"/><line x1="817.8" y1="626.4" x2="817.8" y2="613.9"/><line x1="886.3" y1="626.4" x2="886.3" y2="620.2"/><line x1="954.8" y1="626.4" x2="954.8" y2="613.9"/></g>
<text x="132.5" y="661.8" font-size="30" text-anchor="middle">0.000</text><text x="269.6" y="661.8" font-size="30" text-anchor="middle">0.005</text><text x="406.6" y="661.8" font-size="30" text-anchor="middle">0.010</text><text x="543.6" y="661.8" font-size="30" text-anchor="middle">0.015</text><text x="680.7" y="661.8" font-size="30" text-anchor="middle">0.020</text><text x="817.8" y="661.8" font-size="30" text-anchor="middle">0.025</text><text x="954.8" y="661.8" font-size="30" text-anchor="middle">0.030</text><text x="44" y="172.3" font-size="29.3">10<tspan font-size="20" dy="-12">20</tspan></text><text x="44" y="395.8" font-size="29.3">10<tspan font-size="20" dy="-12">19</tspan></text><text x="44" y="619.3" font-size="29.3">10<tspan font-size="20" dy="-12">18</tspan></text><text x="555" y="689.3" font-size="29.4" text-anchor="middle">Axial position (m)</text><text transform="translate(26.0,314.3) rotate(-90)" font-size="29.5" text-anchor="middle">Neutral density (m<tspan font-size="19" dy="-11">-3</tspan><tspan dy="11">)</tspan></text>
<g fill="none" stroke="#6b2a36" stroke-width="1.1"><polygon points="604.5,8.9 608.8,12.0 607.1,17.0 601.9,17.0 600.2,12.0"/><circle cx="604.5" cy="12.9" r="0.6" fill="#6b2a36" fill-opacity="0.4" stroke="none"/></g><text x="628.4" y="22.2" font-size="24" font-style="italic">t<tspan font-size="16" dy="6.3">0</tspan></text><line x1="675.8" y1="13.8" x2="728.2" y2="13.8" stroke="#7d0a0a" stroke-width="3" stroke-linecap="round"/><text x="742" y="23.0" font-size="21">Polynominal fitting curve of <tspan font-style="italic">t<tspan font-size="16.5" dy="6">0</tspan></tspan></text><g fill="none" stroke="#646464" stroke-width="1.1"><rect x="600.9" y="43.7" width="7.2" height="7.2"/><circle cx="604.5" cy="47.3" r="0.6" fill="#646464" fill-opacity="0.4" stroke="none"/></g><text x="628.4" y="56.4" font-size="24" font-style="italic">t<tspan font-size="16" dy="6.3">1,d</tspan></text><line x1="675.8" y1="48.8" x2="728.2" y2="48.8" stroke="#000000" stroke-width="3" stroke-linecap="round"/><text x="742" y="58.0" font-size="21">Polynominal fitting curve of <tspan font-style="italic">t<tspan font-size="16.5" dy="6">1,d</tspan></tspan></text><g fill="none" stroke="#d47a76" stroke-width="1.1"><circle cx="604.5" cy="81.6" r="3.8"/><circle cx="604.5" cy="81.6" r="0.6" fill="#d47a76" fill-opacity="0.4" stroke="none"/></g><text x="628.4" y="90.6" font-size="24" font-style="italic">t<tspan font-size="16" dy="6.3">2,d</tspan></text><line x1="675.8" y1="83.9" x2="728.2" y2="83.9" stroke="#e8000b" stroke-width="3" stroke-linecap="round"/><text x="742" y="93.1" font-size="21">Polynominal fitting curve of <tspan font-style="italic">t<tspan font-size="16.5" dy="6">2,d</tspan></tspan></text><g fill="none" stroke="#6282d4" stroke-width="1.1"><polygon points="604.5,110.4 609.0,118.9 600.0,118.9"/><circle cx="604.5" cy="114.8" r="0.6" fill="#6282d4" fill-opacity="0.4" stroke="none"/></g><text x="628.4" y="124.8" font-size="24" font-style="italic">t<tspan font-size="16" dy="6.3">3,d</tspan></text><line x1="675.8" y1="118.9" x2="728.2" y2="118.9" stroke="#1f5bd1" stroke-width="3" stroke-linecap="round"/><text x="742" y="128.1" font-size="21">Polynominal fitting curve of <tspan font-style="italic">t<tspan font-size="16.5" dy="6">3,d</tspan></tspan></text><g fill="none" stroke="#5cab8c" stroke-width="1.1"><polygon points="604.5,155.3 609.0,146.8 600.0,146.8"/><circle cx="604.5" cy="150.9" r="0.6" fill="#5cab8c" fill-opacity="0.4" stroke="none"/></g><text x="628.4" y="159.0" font-size="24" font-style="italic">t<tspan font-size="16" dy="6.3">1,cl</tspan></text><line x1="675.8" y1="153.9" x2="728.2" y2="153.9" stroke="#2b9a66" stroke-width="3" stroke-linecap="round" stroke-dasharray="15.5 11.4 1.5 11.5"/><text x="742" y="163.1" font-size="21">Polynominal fitting curve of <tspan font-style="italic">t<tspan font-size="16.5" dy="6">1,cl</tspan></tspan></text><g fill="none" stroke="#9a88d6" stroke-width="1.1"><polygon points="604.5,179.4 609.4,184.3 604.5,189.2 599.6,184.3"/><circle cx="604.5" cy="184.3" r="0.6" fill="#9a88d6" fill-opacity="0.4" stroke="none"/></g><text x="628.4" y="193.2" font-size="24" font-style="italic">t<tspan font-size="16" dy="6.3">2,cl</tspan></text><line x1="675.8" y1="189.0" x2="728.2" y2="189.0" stroke="#a065e0" stroke-width="3" stroke-linecap="round" stroke-dasharray="15.5 11.4 1.5 11.5"/><text x="742" y="198.2" font-size="21">Polynominal fitting curve of <tspan font-style="italic">t<tspan font-size="16.5" dy="6">2,cl</tspan></tspan></text><g fill="none" stroke="#d6b453" stroke-width="1.1"><polygon points="600.5,218.9 608.4,214.5 608.4,223.3"/><circle cx="604.5" cy="218.9" r="0.6" fill="#d6b453" fill-opacity="0.4" stroke="none"/></g><text x="628.4" y="227.4" font-size="24" font-style="italic">t<tspan font-size="16" dy="6.3">3,cl</tspan></text><line x1="675.8" y1="224.0" x2="728.2" y2="224.0" stroke="#cf9d12" stroke-width="3" stroke-linecap="round" stroke-dasharray="15.5 11.4 1.5 11.5"/><text x="742" y="233.2" font-size="21">Polynominal fitting curve of <tspan font-style="italic">t<tspan font-size="16.5" dy="6">3,cl</tspan></tspan></text>
</svg></body></html>
